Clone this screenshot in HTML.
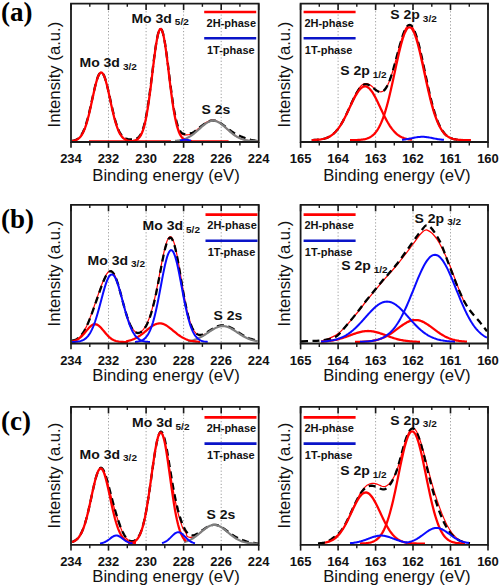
<!DOCTYPE html>
<html><head><meta charset="utf-8"><style>
html,body{margin:0;padding:0;width:501px;height:587px;overflow:hidden;background:#fff;}
</style></head><body>
<svg width="501" height="587" viewBox="0 0 501 587" style="position:absolute;left:0;top:0;font-family:'Liberation Sans', sans-serif">
<rect width="501" height="587" fill="#fff"/>
<line x1="108.5" y1="4.6" x2="108.5" y2="141.0" stroke="#9c9c9c" stroke-width="1" stroke-dasharray="1.2 2.1"/>
<line x1="146.1" y1="4.6" x2="146.1" y2="141.0" stroke="#9c9c9c" stroke-width="1" stroke-dasharray="1.2 2.1"/>
<line x1="183.6" y1="4.6" x2="183.6" y2="141.0" stroke="#9c9c9c" stroke-width="1" stroke-dasharray="1.2 2.1"/>
<line x1="221.2" y1="4.6" x2="221.2" y2="141.0" stroke="#9c9c9c" stroke-width="1" stroke-dasharray="1.2 2.1"/>
<line x1="338.1" y1="4.6" x2="338.1" y2="141.0" stroke="#9c9c9c" stroke-width="1" stroke-dasharray="1.2 2.1"/>
<line x1="375.6" y1="4.6" x2="375.6" y2="141.0" stroke="#9c9c9c" stroke-width="1" stroke-dasharray="1.2 2.1"/>
<line x1="413.0" y1="4.6" x2="413.0" y2="141.0" stroke="#9c9c9c" stroke-width="1" stroke-dasharray="1.2 2.1"/>
<line x1="450.5" y1="4.6" x2="450.5" y2="141.0" stroke="#9c9c9c" stroke-width="1" stroke-dasharray="1.2 2.1"/>
<line x1="108.5" y1="205.8" x2="108.5" y2="342.5" stroke="#9c9c9c" stroke-width="1" stroke-dasharray="1.2 2.1"/>
<line x1="146.1" y1="205.8" x2="146.1" y2="342.5" stroke="#9c9c9c" stroke-width="1" stroke-dasharray="1.2 2.1"/>
<line x1="183.6" y1="205.8" x2="183.6" y2="342.5" stroke="#9c9c9c" stroke-width="1" stroke-dasharray="1.2 2.1"/>
<line x1="221.2" y1="205.8" x2="221.2" y2="342.5" stroke="#9c9c9c" stroke-width="1" stroke-dasharray="1.2 2.1"/>
<line x1="338.1" y1="205.8" x2="338.1" y2="342.5" stroke="#9c9c9c" stroke-width="1" stroke-dasharray="1.2 2.1"/>
<line x1="375.6" y1="205.8" x2="375.6" y2="342.5" stroke="#9c9c9c" stroke-width="1" stroke-dasharray="1.2 2.1"/>
<line x1="413.0" y1="205.8" x2="413.0" y2="342.5" stroke="#9c9c9c" stroke-width="1" stroke-dasharray="1.2 2.1"/>
<line x1="450.5" y1="205.8" x2="450.5" y2="342.5" stroke="#9c9c9c" stroke-width="1" stroke-dasharray="1.2 2.1"/>
<line x1="108.5" y1="407.9" x2="108.5" y2="543.8" stroke="#9c9c9c" stroke-width="1" stroke-dasharray="1.2 2.1"/>
<line x1="146.1" y1="407.9" x2="146.1" y2="543.8" stroke="#9c9c9c" stroke-width="1" stroke-dasharray="1.2 2.1"/>
<line x1="183.6" y1="407.9" x2="183.6" y2="543.8" stroke="#9c9c9c" stroke-width="1" stroke-dasharray="1.2 2.1"/>
<line x1="221.2" y1="407.9" x2="221.2" y2="543.8" stroke="#9c9c9c" stroke-width="1" stroke-dasharray="1.2 2.1"/>
<line x1="338.1" y1="407.9" x2="338.1" y2="543.8" stroke="#9c9c9c" stroke-width="1" stroke-dasharray="1.2 2.1"/>
<line x1="375.6" y1="407.9" x2="375.6" y2="543.8" stroke="#9c9c9c" stroke-width="1" stroke-dasharray="1.2 2.1"/>
<line x1="413.0" y1="407.9" x2="413.0" y2="543.8" stroke="#9c9c9c" stroke-width="1" stroke-dasharray="1.2 2.1"/>
<line x1="450.5" y1="407.9" x2="450.5" y2="543.8" stroke="#9c9c9c" stroke-width="1" stroke-dasharray="1.2 2.1"/>
<path d="M72.0 140.98 L73.0 140.84 L74.0 140.64 L75.0 140.38 L76.0 140.03 L77.0 139.57 L78.0 138.96 L79.0 138.19 L80.0 137.22 L81.0 136.00 L82.0 134.51 L83.0 132.71 L84.0 130.57 L85.0 128.07 L86.0 125.18 L87.0 121.91 L88.0 118.26 L89.0 114.27 L90.0 109.99 L91.0 105.48 L92.0 100.83 L93.0 96.15 L94.0 91.56 L95.0 87.19 L96.0 83.17 L97.0 79.63 L98.0 76.70 L99.0 74.47 L100.0 73.02 L101.0 72.42 L102.0 72.68 L103.0 73.79 L104.0 75.71 L105.0 78.38 L106.0 81.69 L107.0 85.53 L108.0 89.78 L109.0 94.30 L110.0 98.96 L111.0 103.63 L112.0 108.21 L113.0 112.59 L114.0 116.70 L115.0 120.49 L116.0 123.92 L117.0 126.96 L118.0 129.62 L119.0 131.90 L120.0 133.83 L121.0 135.44 L122.0 136.76 L123.0 137.82 L124.0 138.67 L125.0 139.33 L126.0 139.84 L127.0 140.23 L128.0 140.51 L129.0 140.70 L130.0 140.82 L131.0 140.88 L132.0 140.87 L133.0 140.79 L134.0 140.64 L135.0 140.39 L136.0 140.02 L137.0 139.50 L138.0 138.77 L139.0 137.80 L140.0 136.52 L141.0 134.85 L142.0 132.73 L143.0 130.08 L144.0 126.83 L145.0 122.91 L146.0 118.28 L147.0 112.90 L148.0 106.79 L149.0 99.98 L150.0 92.55 L151.0 84.64 L152.0 76.42 L153.0 68.11 L154.0 59.95 L155.0 52.21 L156.0 45.18 L157.0 39.13 L158.0 34.30 L159.0 30.90 L160.0 29.07 L161.0 28.90 L162.0 30.39 L163.0 33.47 L164.0 38.01 L165.0 43.82 L166.0 50.66 L167.0 58.26 L168.0 66.33 L169.0 74.61 L170.0 82.84 L171.0 90.80 L172.0 98.30 L173.0 105.21 L174.0 111.43 L175.0 116.49 L176.0 121.13 L177.0 125.03 L178.0 128.23 L179.0 130.78 L180.0 132.20 L181.0 133.45 L182.0 134.26 L183.0 134.73 L184.0 134.94 L185.0 135.00 L186.0 134.97 L187.0 134.88 L188.0 134.75 L189.0 134.55 L190.0 134.28 L191.0 133.91 L192.0 133.82 L193.0 133.10 L194.0 132.34 L195.0 131.54 L196.0 130.71 L197.0 129.85 L198.0 128.98 L199.0 128.10 L200.0 127.22 L201.0 126.36 L202.0 125.51 L203.0 124.69 L204.0 123.91 L205.0 123.19 L206.0 122.52 L207.0 121.93 L208.0 121.42 L209.0 120.99 L210.0 120.65 L211.0 120.42 L212.0 120.29 L213.0 120.26 L214.0 120.34 L215.0 120.53 L216.0 120.82 L217.0 121.21 L218.0 121.69 L219.0 122.26 L220.0 122.91 L221.0 123.63 L222.0 124.40 L223.0 125.23 L224.0 126.10 L225.0 127.00 L226.0 127.91 L227.0 128.83 L228.0 129.75 L229.0 130.66 L230.0 131.54 L231.0 132.40 L232.0 133.23 L233.0 134.02 L234.0 134.76 L235.0 135.47 L236.0 136.12 L237.0 136.72 L238.0 137.28 L239.0 137.78 L240.0 138.24 L241.0 138.66 L242.0 139.03 L243.0 139.35 L244.0 139.64 L245.0 139.90 L246.0 140.12 L247.0 140.31 L248.0 140.48 L249.0 140.62 L250.0 140.74 L251.0 140.84 L252.0 140.92 L253.0 140.99 L254.0 141.05 L255.0 141.10 L256.0 141.14 L257.0 141.17 L257.7 141.19" fill="none" stroke="#ff0000" stroke-width="1.2"/>
<path d="M72.0 140.90 L73.0 140.74 L74.0 140.51 L75.0 140.21 L76.0 139.82 L77.0 139.30 L78.0 138.64 L79.0 137.79 L80.0 136.74 L81.0 135.45 L82.0 133.87 L83.0 131.99 L84.0 129.77 L85.0 127.19 L86.0 124.24 L87.0 120.93 L88.0 117.26 L89.0 113.27 L90.0 109.01 L91.0 104.56 L92.0 99.99 L93.0 95.41 L94.0 90.93 L95.0 86.68 L96.0 82.79 L97.0 79.37 L98.0 76.53 L99.0 74.39 L100.0 73.00 L101.0 72.42 L102.0 72.67 L103.0 73.74 L104.0 75.59 L105.0 78.16 L106.0 81.35 L107.0 85.07 L108.0 89.20 L109.0 93.60 L110.0 98.15 L111.0 102.73 L112.0 107.24 L113.0 111.58 L114.0 115.68 L115.0 119.47 L116.0 122.91 L117.0 125.98 L118.0 128.66 L119.0 130.97 L120.0 132.92 L121.0 134.54 L122.0 135.84 L123.0 136.87 L124.0 137.66 L125.0 138.26 L126.0 138.69 L127.0 138.99 L128.0 139.20 L129.0 139.34 L130.0 139.42 L131.0 139.46 L132.0 139.47 L133.0 139.44 L134.0 139.34 L135.0 139.16 L136.0 138.86 L137.0 138.40 L138.0 137.72 L139.0 136.77 L140.0 135.48 L141.0 133.78 L142.0 131.59 L143.0 128.86 L144.0 125.51 L145.0 121.49 L146.0 116.76 L147.0 111.31 L148.0 105.15 L149.0 98.33 L150.0 90.94 L151.0 83.11 L152.0 75.02 L153.0 66.88 L154.0 58.92 L155.0 51.40 L156.0 44.60 L157.0 38.75 L158.0 34.10 L159.0 30.82 L160.0 29.06 L161.0 28.89 L162.0 30.32 L163.0 33.28 L164.0 37.65 L165.0 43.26 L166.0 49.87 L167.0 57.23 L168.0 65.09 L169.0 73.18 L170.0 81.26 L171.0 89.11 L172.0 96.55 L173.0 103.44 L174.0 109.68 L175.0 114.73 L176.0 119.45 L177.0 123.44 L178.0 126.74 L179.0 129.40 L180.0 130.90 L181.0 132.24 L182.0 133.14 L183.0 133.68 L184.0 133.96 L185.0 134.08 L186.0 134.09 L187.0 134.04 L188.0 133.93 L189.0 133.77 L190.0 133.54 L191.0 133.21 L192.0 133.19 L193.0 132.53 L194.0 131.83 L195.0 131.09 L196.0 130.33 L197.0 129.55 L198.0 128.75 L199.0 127.94 L200.0 127.14 L201.0 126.34 L202.0 125.55 L203.0 124.80 L204.0 124.08 L205.0 123.40 L206.0 122.77 L207.0 122.21 L208.0 121.72 L209.0 121.30 L210.0 120.97 L211.0 120.73 L212.0 120.59 L213.0 120.55 L214.0 120.60 L215.0 120.75 L216.0 121.00 L217.0 121.34 L218.0 121.76 L219.0 122.27 L220.0 122.84 L221.0 123.48 L222.0 124.17 L223.0 124.90 L224.0 125.66 L225.0 126.44 L226.0 127.23 L227.0 128.01 L228.0 128.79 L229.0 129.55 L230.0 130.28 L231.0 130.99 L232.0 131.66 L233.0 132.31 L234.0 132.92 L235.0 133.50 L236.0 134.05 L237.0 134.57 L238.0 135.07 L239.0 135.55 L240.0 136.01 L241.0 136.45 L242.0 136.88 L243.0 137.29 L244.0 137.68 L245.0 138.06 L246.0 138.42 L247.0 138.76 L248.0 139.08 L249.0 139.38 L250.0 139.65 L251.0 139.90 L252.0 140.12 L253.0 140.32 L254.0 140.49 L255.0 140.64 L256.0 140.77 L257.0 140.88 L257.7 140.94" fill="none" stroke="#000" stroke-width="2.3" stroke-dasharray="7 4.5"/>
<path d="M175.0 140.87 L176.0 140.78 L177.0 140.67 L178.0 140.53 L179.0 140.38 L180.0 140.20 L181.0 139.99 L182.0 139.75 L183.0 139.48 L184.0 139.16 L185.0 138.81 L186.0 138.42 L187.0 137.98 L188.0 137.49 L189.0 136.96 L190.0 136.37 L191.0 135.74 L192.0 135.06 L193.0 134.33 L194.0 133.57 L195.0 132.76 L196.0 131.92 L197.0 131.04 L198.0 130.15 L199.0 129.25 L200.0 128.34 L201.0 127.43 L202.0 126.54 L203.0 125.68 L204.0 124.85 L205.0 124.07 L206.0 123.35 L207.0 122.70 L208.0 122.13 L209.0 121.64 L210.0 121.25 L211.0 120.96 L212.0 120.78 L213.0 120.70 L214.0 120.74 L215.0 120.88 L216.0 121.12 L217.0 121.48 L218.0 121.92 L219.0 122.46 L220.0 123.08 L221.0 123.78 L222.0 124.53 L223.0 125.34 L224.0 126.19 L225.0 127.07 L226.0 127.97 L227.0 128.88 L228.0 129.79 L229.0 130.69 L230.0 131.57 L231.0 132.42 L232.0 133.25 L233.0 134.03 L234.0 134.78 L235.0 135.47 L236.0 136.13 L237.0 136.73 L238.0 137.28 L239.0 137.79 L240.0 138.25 L241.0 138.66 L242.0 139.03 L243.0 139.35 L244.0 139.64 L245.0 139.90 L246.0 140.12 L247.0 140.31 L248.0 140.48 L249.0 140.62 L250.0 140.74 L251.0 140.84 L252.0 140.92 L253.0 140.99 L254.0 141.05 L255.0 141.10 L256.0 141.14 L257.0 141.17 L257.7 141.19" fill="none" stroke="#7f7f7f" stroke-width="2.2"/>
<path d="M72.0 140.98 L73.0 140.84 L74.0 140.64 L75.0 140.38 L76.0 140.03 L77.0 139.57 L78.0 138.96 L79.0 138.19 L80.0 137.22 L81.0 136.00 L82.0 134.51 L83.0 132.71 L84.0 130.57 L85.0 128.07 L86.0 125.18 L87.0 121.91 L88.0 118.26 L89.0 114.27 L90.0 109.99 L91.0 105.48 L92.0 100.83 L93.0 96.15 L94.0 91.56 L95.0 87.19 L96.0 83.17 L97.0 79.63 L98.0 76.70 L99.0 74.47 L100.0 73.02 L101.0 72.42 L102.0 72.68 L103.0 73.79 L104.0 75.71 L105.0 78.38 L106.0 81.69 L107.0 85.53 L108.0 89.78 L109.0 94.30 L110.0 98.96 L111.0 103.63 L112.0 108.21 L113.0 112.59 L114.0 116.70 L115.0 120.49 L116.0 123.92 L117.0 126.96 L118.0 129.62 L119.0 131.90 L120.0 133.83 L121.0 135.44 L122.0 136.76 L123.0 137.83 L124.0 138.68 L125.0 139.34 L126.0 139.86 L127.0 140.25 L128.0 140.55 L129.0 140.77 L130.0 140.93 L131.0 141.04 L132.0 141.12 L133.0 141.18 L134.0 141.22 L135.0 141.25 L136.0 141.27 L137.0 141.28 L138.0 141.29 L139.0 141.29 L140.0 141.29 L141.0 141.30 L142.0 141.30 L143.0 141.30 L144.0 141.30 L145.0 141.30 L146.0 141.30 L147.0 141.30 L148.0 141.30 L149.0 141.30 L150.0 141.30 L151.0 141.30 L152.0 141.30 L153.0 141.30 L154.0 141.30 L155.0 141.30 L156.0 141.30 L157.0 141.30 L158.0 141.30 L159.0 141.30 L160.0 141.30 L161.0 141.30 L162.0 141.30 L163.0 141.30 L164.0 141.30 L165.0 141.30 L166.0 141.30 L167.0 141.30 L168.0 141.30 L169.0 141.30 L170.0 141.30 L171.0 141.30" fill="none" stroke="#ff0000" stroke-width="2.25"/>
<path d="M89.0 141.30 L90.0 141.30 L91.0 141.30 L92.0 141.30 L93.0 141.30 L94.0 141.30 L95.0 141.30 L96.0 141.30 L97.0 141.30 L98.0 141.30 L99.0 141.30 L100.0 141.30 L101.0 141.30 L102.0 141.30 L103.0 141.30 L104.0 141.30 L105.0 141.30 L106.0 141.30 L107.0 141.30 L108.0 141.30 L109.0 141.30 L110.0 141.30 L111.0 141.30 L112.0 141.30 L113.0 141.30 L114.0 141.30 L115.0 141.30 L116.0 141.30 L117.0 141.30 L118.0 141.30 L119.0 141.30 L120.0 141.30 L121.0 141.30 L122.0 141.30 L123.0 141.30 L124.0 141.29 L125.0 141.29 L126.0 141.28 L127.0 141.27 L128.0 141.26 L129.0 141.23 L130.0 141.19 L131.0 141.13 L132.0 141.04 L133.0 140.91 L134.0 140.72 L135.0 140.44 L136.0 140.06 L137.0 139.52 L138.0 138.79 L139.0 137.81 L140.0 136.52 L141.0 134.85 L142.0 132.73 L143.0 130.08 L144.0 126.83 L145.0 122.92 L146.0 118.28 L147.0 112.90 L148.0 106.79 L149.0 99.98 L150.0 92.55 L151.0 84.65 L152.0 76.43 L153.0 68.11 L154.0 59.95 L155.0 52.22 L156.0 45.19 L157.0 39.15 L158.0 34.32 L159.0 30.92 L160.0 29.10 L161.0 28.93 L162.0 30.43 L163.0 33.52 L164.0 38.08 L165.0 43.90 L166.0 50.75 L167.0 58.36 L168.0 66.46 L169.0 74.76 L170.0 83.02 L171.0 91.01 L172.0 98.54 L173.0 105.48 L174.0 111.74 L175.0 117.27 L176.0 122.05 L177.0 126.10 L178.0 129.48 L179.0 132.25 L180.0 134.47 L181.0 136.22 L182.0 137.58 L183.0 138.61 L184.0 139.39 L185.0 139.96 L186.0 140.38 L187.0 140.67 L188.0 140.88 L189.0 141.02 L190.0 141.12 L191.0 141.18 L192.0 141.23 L193.0 141.25 L194.0 141.27 L195.0 141.28 L196.0 141.29 L197.0 141.29 L198.0 141.30 L199.0 141.30 L200.0 141.30 L201.0 141.30 L202.0 141.30 L203.0 141.30 L204.0 141.30 L205.0 141.30 L206.0 141.30 L207.0 141.30 L208.0 141.30 L209.0 141.30 L210.0 141.30 L211.0 141.30 L212.0 141.30 L213.0 141.30 L214.0 141.30 L215.0 141.30 L216.0 141.30 L217.0 141.30 L218.0 141.30 L219.0 141.30 L220.0 141.30 L221.0 141.30 L222.0 141.30 L223.0 141.30 L224.0 141.30 L225.0 141.30 L226.0 141.30 L227.0 141.30 L228.0 141.30 L228.6 141.30" fill="none" stroke="#ff0000" stroke-width="2.25"/>
<path d="M180.0 140.73 L181.0 140.50 L182.0 140.25 L183.0 140.01 L184.0 139.82 L185.0 139.71 L186.0 139.71 L187.0 139.82 L188.0 140.01 L189.0 140.25 L190.0 140.50 L191.0 140.73" fill="none" stroke="#0a0aff" stroke-width="2.0"/>
<path d="M311.8 140.07 L312.8 140.04 L313.8 140.00 L314.8 139.95 L315.8 139.90 L316.8 139.83 L317.8 139.74 L318.8 139.64 L319.8 139.52 L320.8 139.38 L321.8 139.21 L322.8 139.01 L323.8 138.78 L324.8 138.50 L325.8 138.19 L326.8 137.83 L327.8 137.41 L328.8 136.94 L329.8 136.40 L330.8 135.79 L331.8 135.10 L332.8 134.33 L333.8 133.48 L334.8 132.53 L335.8 131.48 L336.8 130.34 L337.8 129.09 L338.8 127.73 L339.8 126.26 L340.8 124.69 L341.8 123.02 L342.8 121.24 L343.8 119.36 L344.8 117.40 L345.8 115.35 L346.8 113.23 L347.8 111.06 L348.8 108.85 L349.8 106.61 L350.8 104.34 L351.8 102.10 L352.8 99.90 L353.8 97.76 L354.8 95.69 L355.8 93.73 L356.8 91.89 L357.8 90.20 L358.8 88.67 L359.8 87.31 L360.8 86.16 L361.8 85.20 L362.8 84.46 L363.8 83.93 L364.8 83.61 L365.8 83.49 L366.8 83.58 L367.8 83.84 L368.8 84.27 L369.8 84.84 L370.8 85.53 L371.8 86.31 L372.8 87.14 L373.8 88.00 L374.8 88.85 L375.8 89.66 L376.8 90.38 L377.8 91.00 L378.8 91.47 L379.8 91.76 L380.8 91.84 L381.8 91.68 L382.8 91.26 L383.8 90.56 L384.8 89.57 L385.8 88.27 L386.8 86.66 L387.8 84.74 L388.8 82.51 L389.8 79.99 L390.8 77.19 L391.8 74.15 L392.8 70.88 L393.8 67.43 L394.8 63.84 L395.8 60.15 L396.8 56.41 L397.8 52.67 L398.8 48.98 L399.8 45.41 L400.8 42.00 L401.8 38.81 L402.8 35.34 L403.8 32.63 L404.8 30.27 L405.8 28.30 L406.8 26.75 L407.8 25.65 L408.8 25.03 L409.8 24.89 L410.8 25.24 L411.8 26.09 L412.8 27.83 L413.8 29.56 L414.8 31.76 L415.8 34.40 L416.8 37.45 L417.8 40.87 L418.8 44.61 L419.8 48.64 L420.8 52.91 L421.8 57.37 L422.8 61.97 L423.8 66.66 L424.8 71.40 L425.8 76.14 L426.8 80.84 L427.8 85.47 L428.8 89.97 L429.8 94.34 L430.8 98.53 L431.8 102.52 L432.8 106.29 L433.8 109.84 L434.8 113.16 L435.8 116.23 L436.8 119.05 L437.8 121.64 L438.8 123.99 L439.8 126.11 L440.8 128.01 L441.8 129.71 L442.8 131.21 L443.8 132.54 L444.8 134.00 L445.8 134.95 L446.8 135.78 L447.8 136.49 L448.8 137.11 L449.8 137.63 L450.8 138.07 L451.8 138.45 L452.8 138.77 L453.8 139.03 L454.8 139.25 L455.8 139.43 L456.8 139.58 L457.8 139.71 L458.8 139.81 L459.8 139.89 L460.8 139.95 L461.8 140.01 L462.8 140.05 L463.8 140.08 L464.8 140.11 L465.8 140.13 L466.8 140.15 L467.8 140.16 L468.8 140.17 L469.8 140.18 L470.8 140.18 L470.9 140.18" fill="none" stroke="#ff0000" stroke-width="1.2"/>
<path d="M311.8 140.07 L312.8 140.04 L313.8 140.00 L314.8 139.95 L315.8 139.90 L316.8 139.83 L317.8 139.74 L318.8 139.64 L319.8 139.52 L320.8 139.38 L321.8 139.21 L322.8 139.01 L323.8 138.78 L324.8 138.50 L325.8 138.19 L326.8 137.83 L327.8 137.41 L328.8 136.94 L329.8 136.40 L330.8 135.79 L331.8 135.11 L332.8 134.34 L333.8 133.49 L334.8 132.54 L335.8 131.50 L336.8 130.36 L337.8 129.12 L338.8 127.77 L339.8 126.32 L340.8 124.76 L341.8 123.10 L342.8 121.35 L343.8 119.50 L344.8 117.56 L345.8 115.55 L346.8 113.47 L347.8 111.35 L348.8 109.18 L349.8 107.00 L350.8 104.77 L351.8 102.60 L352.8 100.45 L353.8 98.37 L354.8 96.36 L355.8 94.45 L356.8 92.66 L357.8 91.01 L358.8 89.51 L359.8 88.19 L360.8 87.05 L361.8 86.10 L362.8 85.35 L363.8 84.81 L364.8 84.47 L365.8 84.32 L366.8 84.37 L367.8 84.58 L368.8 84.96 L369.8 85.48 L370.8 86.11 L371.8 86.82 L372.8 87.60 L373.8 88.40 L374.8 89.20 L375.8 89.96 L376.8 90.64 L377.8 91.22 L378.8 91.65 L379.8 91.90 L380.8 91.95 L381.8 91.77 L382.8 91.34 L383.8 90.62 L384.8 89.62 L385.8 88.31 L386.8 86.69 L387.8 84.76 L388.8 82.52 L389.8 80.00 L390.8 77.20 L391.8 74.15 L392.8 70.89 L393.8 67.44 L394.8 63.84 L395.8 60.15 L396.8 56.41 L397.8 52.67 L398.8 48.98 L399.8 45.41 L400.8 42.00 L401.8 38.81 L402.8 35.34 L403.8 32.63 L404.8 30.27 L405.8 28.30 L406.8 26.75 L407.8 25.65 L408.8 25.03 L409.8 24.89 L410.8 25.24 L411.8 26.09 L412.8 27.83 L413.8 29.56 L414.8 31.76 L415.8 34.40 L416.8 37.45 L417.8 40.87 L418.8 44.61 L419.8 48.64 L420.8 52.91 L421.8 57.37 L422.8 61.97 L423.8 66.66 L424.8 71.40 L425.8 76.14 L426.8 80.84 L427.8 85.47 L428.8 89.97 L429.8 94.34 L430.8 98.53 L431.8 102.52 L432.8 106.29 L433.8 109.84 L434.8 113.16 L435.8 116.23 L436.8 119.05 L437.8 121.64 L438.8 123.99 L439.8 126.11 L440.8 128.01 L441.8 129.71 L442.8 131.21 L443.8 132.54 L444.8 134.00 L445.8 134.95 L446.8 135.78 L447.8 136.49 L448.8 137.11 L449.8 137.63 L450.8 138.07 L451.8 138.45 L452.8 138.77 L453.8 139.03 L454.8 139.25 L455.8 139.43 L456.8 139.58 L457.8 139.71 L458.8 139.81 L459.8 139.89 L460.8 139.95 L461.8 140.01 L462.8 140.05 L463.8 140.08 L464.8 140.11 L465.8 140.13 L466.8 140.15 L467.8 140.16 L468.8 140.17 L469.8 140.18 L470.8 140.18 L470.9 140.18" fill="none" stroke="#000" stroke-width="2.3" stroke-dasharray="7 4.5"/>
<path d="M311.8 140.07 L312.8 140.04 L313.8 140.00 L314.8 139.95 L315.8 139.90 L316.8 139.83 L317.8 139.74 L318.8 139.64 L319.8 139.52 L320.8 139.38 L321.8 139.21 L322.8 139.01 L323.8 138.78 L324.8 138.50 L325.8 138.19 L326.8 137.83 L327.8 137.41 L328.8 136.94 L329.8 136.40 L330.8 135.79 L331.8 135.11 L332.8 134.35 L333.8 133.50 L334.8 132.55 L335.8 131.52 L336.8 130.38 L337.8 129.15 L338.8 127.81 L339.8 126.37 L340.8 124.83 L341.8 123.19 L342.8 121.46 L343.8 119.63 L344.8 117.73 L345.8 115.75 L346.8 113.71 L347.8 111.63 L348.8 109.51 L349.8 107.38 L350.8 105.25 L351.8 103.14 L352.8 101.07 L353.8 99.06 L354.8 97.14 L355.8 95.31 L356.8 93.61 L357.8 92.05 L358.8 90.65 L359.8 89.42 L360.8 88.39 L361.8 87.57 L362.8 86.95 L363.8 86.57 L364.8 86.40 L365.8 86.47 L366.8 86.77 L367.8 87.29 L368.8 88.04 L369.8 88.99 L370.8 90.14 L371.8 91.47 L372.8 92.97 L373.8 94.61 L374.8 96.39 L375.8 98.28 L376.8 100.26 L377.8 102.31 L378.8 104.40 L379.8 106.53 L380.8 108.66 L381.8 110.79 L382.8 112.88 L383.8 114.94 L384.8 116.94 L385.8 118.88 L386.8 120.74 L387.8 122.51 L388.8 124.19 L389.8 125.77 L390.8 127.25 L391.8 128.63 L392.8 129.90 L393.8 131.08 L394.8 132.15 L395.8 133.13 L396.8 134.02 L397.8 134.81 L398.8 135.53 L399.8 136.17 L400.8 136.73 L401.8 137.23 L402.8 137.67 L403.8 138.05 L404.8 138.38 L405.8 138.67 L406.8 138.92 L407.8 139.13 L408.8 139.31 L409.8 139.47 L410.8 139.59 L411.8 139.70 L412.0 139.72" fill="none" stroke="#ff0000" stroke-width="2.25"/>
<path d="M350.0 140.17 L351.0 140.16 L352.0 140.15 L353.0 140.13 L354.0 140.11 L355.0 140.09 L356.0 140.06 L357.0 140.02 L358.0 139.97 L359.0 139.90 L360.0 139.82 L361.0 139.73 L362.0 139.61 L363.0 139.47 L364.0 139.29 L365.0 139.08 L366.0 138.82 L367.0 138.52 L368.0 138.15 L369.0 137.72 L370.0 137.22 L371.0 136.62 L372.0 135.93 L373.0 135.13 L374.0 134.20 L375.0 133.14 L376.0 131.93 L377.0 130.55 L378.0 129.00 L379.0 127.26 L380.0 125.32 L381.0 123.16 L382.0 120.79 L383.0 118.19 L384.0 115.35 L385.0 112.29 L386.0 108.98 L387.0 105.45 L388.0 101.70 L389.0 97.74 L390.0 93.60 L391.0 89.29 L392.0 84.83 L393.0 80.27 L394.0 75.63 L395.0 70.96 L396.0 66.29 L397.0 61.68 L398.0 57.16 L399.0 52.79 L400.0 48.63 L401.0 44.70 L402.0 41.08 L403.0 37.79 L404.0 34.89 L405.0 32.41 L406.0 30.38 L407.0 28.83 L408.0 27.79 L409.0 27.27 L410.0 27.27 L411.0 27.79 L412.0 28.83 L413.0 30.38 L414.0 32.41 L415.0 34.89 L416.0 37.79 L417.0 41.08 L418.0 44.70 L419.0 48.63 L420.0 52.79 L421.0 57.16 L422.0 61.68 L423.0 66.29 L424.0 70.96 L425.0 75.63 L426.0 80.27 L427.0 84.83 L428.0 89.29 L429.0 93.60 L430.0 97.74 L431.0 101.70 L432.0 105.45 L433.0 108.98 L434.0 112.29 L435.0 115.35 L436.0 118.19 L437.0 120.79 L438.0 123.16 L439.0 125.32 L440.0 127.26 L441.0 129.00 L442.0 130.55 L443.0 131.93 L444.0 133.14 L445.0 134.20 L446.0 135.13 L447.0 135.93 L448.0 136.62 L449.0 137.22 L450.0 137.72 L451.0 138.15 L452.0 138.52 L453.0 138.82 L454.0 139.08 L455.0 139.29 L456.0 139.47 L457.0 139.61 L458.0 139.73 L459.0 139.82 L460.0 139.90 L461.0 139.97 L462.0 140.02 L463.0 140.06 L464.0 140.09 L465.0 140.11 L466.0 140.13 L467.0 140.15 L468.0 140.16 L469.0 140.17 L470.0 140.18 L470.9 140.18" fill="none" stroke="#ff0000" stroke-width="2.25"/>
<path d="M402.0 139.73 L403.0 139.63 L404.0 139.52 L405.0 139.39 L406.0 139.25 L407.0 139.10 L408.0 138.93 L409.0 138.75 L410.0 138.56 L411.0 138.36 L412.0 138.16 L413.0 137.96 L414.0 137.76 L415.0 137.57 L416.0 137.39 L417.0 137.23 L418.0 137.09 L419.0 136.97 L420.0 136.89 L421.0 136.83 L422.0 136.80 L423.0 136.81 L424.0 136.85 L425.0 136.92 L426.0 137.02 L427.0 137.14 L428.0 137.29 L429.0 137.46 L430.0 137.64 L431.0 137.84 L432.0 138.04 L433.0 138.24 L434.0 138.44 L435.0 138.64 L436.0 138.82 L437.0 139.00 L438.0 139.16 L439.0 139.31 L440.0 139.45 L441.0 139.57 L442.0 139.67 L443.0 139.77 L444.0 139.85" fill="none" stroke="#0a0aff" stroke-width="2.0"/>
<path d="M72.0 341.38 L73.0 341.14 L74.0 340.83 L75.0 340.44 L76.0 339.96 L77.0 339.38 L78.0 338.67 L79.0 337.83 L80.0 336.84 L81.0 335.69 L82.0 334.38 L83.0 332.89 L84.0 331.23 L85.0 329.39 L86.0 327.38 L87.0 325.21 L88.0 322.90 L89.0 320.45 L90.0 317.88 L91.0 315.21 L92.0 312.46 L93.0 309.64 L94.0 306.78 L95.0 303.88 L96.0 300.96 L97.0 298.04 L98.0 295.13 L99.0 292.25 L100.0 289.41 L101.0 286.65 L102.0 283.99 L103.0 281.47 L104.0 279.11 L105.0 276.97 L106.0 275.08 L107.0 273.50 L108.0 272.26 L109.0 271.41 L110.0 270.98 L111.0 271.00 L112.0 271.50 L113.0 272.48 L114.0 273.93 L115.0 275.84 L116.0 278.19 L117.0 280.92 L118.0 283.99 L119.0 287.35 L120.0 290.92 L121.0 294.65 L122.0 298.47 L123.0 302.32 L124.0 306.12 L125.0 309.83 L126.0 312.54 L127.0 315.76 L128.0 318.74 L129.0 321.47 L130.0 323.89 L131.0 326.03 L132.0 327.87 L133.0 329.42 L134.0 330.69 L135.0 331.48 L136.0 332.14 L137.0 332.54 L138.0 332.68 L139.0 332.59 L140.0 332.26 L141.0 331.70 L142.0 330.92 L143.0 329.91 L144.0 328.67 L145.0 327.21 L146.0 325.49 L147.0 323.52 L148.0 321.28 L149.0 318.76 L150.0 315.93 L151.0 312.89 L152.0 309.41 L153.0 305.62 L154.0 301.51 L155.0 297.11 L156.0 292.43 L157.0 287.52 L158.0 282.41 L159.0 277.16 L160.0 271.86 L161.0 266.59 L162.0 261.44 L163.0 256.51 L164.0 251.90 L165.0 247.74 L166.0 244.11 L167.0 241.11 L168.0 238.83 L169.0 237.34 L170.0 236.68 L171.0 236.88 L172.0 237.96 L173.0 239.88 L174.0 242.62 L175.0 246.11 L176.0 250.28 L177.0 255.02 L178.0 260.24 L179.0 265.82 L180.0 271.64 L181.0 277.59 L182.0 283.56 L183.0 289.44 L184.0 295.16 L185.0 300.62 L186.0 305.78 L187.0 310.57 L188.0 314.10 L189.0 317.95 L190.0 321.35 L191.0 324.32 L192.0 326.88 L193.0 329.03 L194.0 330.80 L195.0 332.23 L196.0 333.34 L197.0 334.17 L198.0 334.75 L199.0 335.11 L200.0 335.28 L201.0 335.46 L202.0 335.28 L203.0 334.99 L204.0 334.61 L205.0 334.15" fill="none" stroke="#ff0000" stroke-width="1.2"/>
<path d="M72.0 340.71 L73.0 340.50 L74.0 340.23 L75.0 339.89 L76.0 339.46 L77.0 338.94 L78.0 338.29 L79.0 337.52 L80.0 336.60 L81.0 335.53 L82.0 334.29 L83.0 332.88 L84.0 331.29 L85.0 329.54 L86.0 327.61 L87.0 325.52 L88.0 323.28 L89.0 320.90 L90.0 318.41 L91.0 315.81 L92.0 313.13 L93.0 310.38 L94.0 307.58 L95.0 304.74 L96.0 301.88 L97.0 299.00 L98.0 296.12 L99.0 293.25 L100.0 290.42 L101.0 287.64 L102.0 284.95 L103.0 282.37 L104.0 279.95 L105.0 277.73 L106.0 275.75 L107.0 274.07 L108.0 272.74 L109.0 271.80 L110.0 271.30 L111.0 271.26 L112.0 271.70 L113.0 272.64 L114.0 274.07 L115.0 275.98 L116.0 278.32 L117.0 281.06 L118.0 284.15 L119.0 287.52 L120.0 291.11 L121.0 294.83 L122.0 298.62 L123.0 302.42 L124.0 306.15 L125.0 309.76 L126.0 313.19 L127.0 316.40 L128.0 319.36 L129.0 322.04 L130.0 324.43 L131.0 326.51 L132.0 328.29 L133.0 329.77 L134.0 330.95 L135.0 331.85 L136.0 332.48 L137.0 332.85 L138.0 332.98 L139.0 332.88 L140.0 332.55 L141.0 332.01 L142.0 331.26 L143.0 330.29 L144.0 329.11 L145.0 327.70 L146.0 326.06 L147.0 324.18 L148.0 322.03 L149.0 319.61 L150.0 316.89 L151.0 313.86 L152.0 310.51 L153.0 306.84 L154.0 302.84 L155.0 298.53 L156.0 293.93 L157.0 289.07 L158.0 284.00 L159.0 278.77 L160.0 273.46 L161.0 268.16 L162.0 262.96 L163.0 257.97 L164.0 253.29 L165.0 249.05 L166.0 245.34 L167.0 242.28 L168.0 239.94 L169.0 238.39 L170.0 237.71 L171.0 237.90 L172.0 238.98 L173.0 240.94 L174.0 243.72 L175.0 247.27 L176.0 251.49 L177.0 256.30 L178.0 261.56 L179.0 267.18 L180.0 273.01 L181.0 278.95 L182.0 284.88 L183.0 290.69 L184.0 296.29 L185.0 301.60 L186.0 306.57 L187.0 311.14 L188.0 315.28 L189.0 318.98 L190.0 322.23 L191.0 325.05 L192.0 327.44 L193.0 329.44 L194.0 331.06 L195.0 332.35 L196.0 333.33 L197.0 334.04 L198.0 334.51 L199.0 334.78 L200.0 334.86 L201.0 334.79 L202.0 334.58 L203.0 334.27 L204.0 333.87 L205.0 333.40 L206.0 332.86 L207.0 332.29 L208.0 331.68 L209.0 331.06 L210.0 330.42 L211.0 329.79 L212.0 329.17 L213.0 328.57 L214.0 327.99 L215.0 327.46 L216.0 326.97 L217.0 326.54 L218.0 326.16 L219.0 325.84 L220.0 325.60 L221.0 325.42 L222.0 325.32 L223.0 325.30 L224.0 325.35 L225.0 325.48 L226.0 325.69 L227.0 325.96 L228.0 326.30 L229.0 326.71 L230.0 327.17 L231.0 327.68 L232.0 328.24 L233.0 328.83 L234.0 329.46 L235.0 330.10 L236.0 330.77 L237.0 331.44 L238.0 332.11 L239.0 332.77 L240.0 333.43 L241.0 334.07 L242.0 334.69 L243.0 335.29 L244.0 335.86 L245.0 336.39 L246.0 336.90 L247.0 337.37 L248.0 337.81 L249.0 338.22 L250.0 338.59 L251.0 338.92 L252.0 339.23 L253.0 339.50 L254.0 339.75 L255.0 339.97 L256.0 340.16 L257.0 340.33 L257.7 340.44" fill="none" stroke="#000" stroke-width="2.3" stroke-dasharray="7 4.5"/>
<path d="M187.8 341.25 L188.8 341.10 L189.8 340.93 L190.8 340.73 L191.8 340.50 L192.8 340.25 L193.8 339.97 L194.8 339.66 L195.8 339.32 L196.8 338.94 L197.8 338.53 L198.8 338.08 L199.8 337.60 L200.8 337.09 L201.8 336.54 L202.8 335.97 L203.8 335.37 L204.8 334.74 L205.8 334.10 L206.8 333.44 L207.8 332.77 L208.8 332.10 L209.8 331.43 L210.8 330.77 L211.8 330.13 L212.8 329.51 L213.8 328.93 L214.8 328.38 L215.8 327.87 L216.8 327.42 L217.8 327.03 L218.8 326.70 L219.8 326.44 L220.8 326.25 L221.8 326.14 L222.8 326.10 L223.8 326.14 L224.8 326.25 L225.8 326.44 L226.8 326.70 L227.8 327.03 L228.8 327.42 L229.8 327.87 L230.8 328.38 L231.8 328.93 L232.8 329.51 L233.8 330.13 L234.8 330.77 L235.8 331.43 L236.8 332.10 L237.8 332.77 L238.8 333.44 L239.8 334.10 L240.8 334.74 L241.8 335.37 L242.8 335.97 L243.8 336.54 L244.8 337.09 L245.8 337.60 L246.8 338.08 L247.8 338.53 L248.8 338.94 L249.8 339.32 L250.8 339.66 L251.8 339.97 L252.8 340.25 L253.8 340.50 L254.8 340.73 L255.8 340.93 L256.8 341.10 L257.7 341.24" fill="none" stroke="#7f7f7f" stroke-width="2.2"/>
<path d="M72.0 341.46 L73.0 341.25 L74.0 340.98 L75.0 340.65 L76.0 340.25 L77.0 339.77 L78.0 339.19 L79.0 338.52 L80.0 337.75 L81.0 336.88 L82.0 335.91 L83.0 334.86 L84.0 333.73 L85.0 332.55 L86.0 331.34 L87.0 330.13 L88.0 328.95 L89.0 327.83 L90.0 326.80 L91.0 325.91 L92.0 325.18 L93.0 324.64 L94.0 324.31 L95.0 324.20 L96.0 324.31 L97.0 324.64 L98.0 325.18 L99.0 325.91 L100.0 326.80 L101.0 327.83 L102.0 328.95 L103.0 330.13 L104.0 331.34 L105.0 332.55 L106.0 333.73 L107.0 334.86 L108.0 335.91 L109.0 336.88 L110.0 337.75 L111.0 338.52 L112.0 339.19 L113.0 339.77 L114.0 340.25 L115.0 340.65 L116.0 340.98 L117.0 341.25 L118.0 341.46 L119.0 341.62 L120.0 341.75 L121.0 341.84 L122.0 341.92 L123.0 341.97 L124.0 342.01 L125.0 342.04 L126.0 342.06 L127.0 342.07 L128.0 342.08" fill="none" stroke="#ff0000" stroke-width="2.25"/>
<path d="M126.0 341.24 L127.0 341.07 L128.0 340.87 L129.0 340.64 L130.0 340.38 L131.0 340.09 L132.0 339.76 L133.0 339.39 L134.0 338.97 L135.0 338.52 L136.0 338.01 L137.0 337.47 L138.0 336.87 L139.0 336.24 L140.0 335.56 L141.0 334.84 L142.0 334.09 L143.0 333.31 L144.0 332.51 L145.0 331.68 L146.0 330.85 L147.0 330.02 L148.0 329.19 L149.0 328.38 L150.0 327.61 L151.0 326.87 L152.0 326.17 L153.0 325.54 L154.0 324.97 L155.0 324.49 L156.0 324.08 L157.0 323.77 L158.0 323.55 L159.0 323.42 L160.0 323.40 L161.0 323.49 L162.0 323.67 L163.0 323.94 L164.0 324.31 L165.0 324.77 L166.0 325.31 L167.0 325.91 L168.0 326.58 L169.0 327.30 L170.0 328.07 L171.0 328.87 L172.0 329.69 L173.0 330.52 L174.0 331.35 L175.0 332.18 L176.0 332.99 L177.0 333.78 L178.0 334.55 L179.0 335.28 L180.0 335.97 L181.0 336.63 L182.0 337.24 L183.0 337.80 L184.0 338.32 L185.0 338.80 L186.0 339.23 L187.0 339.61 L188.0 339.96 L189.0 340.27 L190.0 340.54 L191.0 340.78 L192.0 340.99 L193.0 341.17 L194.0 341.33 L195.0 341.46 L196.0 341.57 L197.0 341.67 L198.0 341.75 L199.0 341.81 L200.0 341.87" fill="none" stroke="#ff0000" stroke-width="2.25"/>
<path d="M72.0 342.02 L73.0 341.99 L74.0 341.95 L75.0 341.89 L76.0 341.81 L77.0 341.71 L78.0 341.58 L79.0 341.41 L80.0 341.19 L81.0 340.91 L82.0 340.56 L83.0 340.13 L84.0 339.59 L85.0 338.93 L86.0 338.14 L87.0 337.18 L88.0 336.05 L89.0 334.72 L90.0 333.18 L91.0 331.40 L92.0 329.38 L93.0 327.10 L94.0 324.57 L95.0 321.78 L96.0 318.75 L97.0 315.49 L98.0 312.04 L99.0 308.43 L100.0 304.71 L101.0 300.93 L102.0 297.15 L103.0 293.44 L104.0 289.87 L105.0 286.51 L106.0 283.45 L107.0 280.73 L108.0 278.44 L109.0 276.63 L110.0 275.33 L111.0 274.58 L112.0 274.41 L113.0 274.81 L114.0 275.78 L115.0 277.29 L116.0 279.31 L117.0 281.77 L118.0 284.63 L119.0 287.83 L120.0 291.28 L121.0 294.91 L122.0 298.66 L123.0 302.44 L124.0 306.21 L125.0 309.89 L126.0 313.45 L127.0 316.82 L128.0 319.99 L129.0 322.92 L130.0 325.61 L131.0 328.04 L132.0 330.22 L133.0 332.14 L134.0 333.82 L135.0 335.28 L136.0 336.53 L137.0 337.59 L138.0 338.47 L139.0 339.21 L140.0 339.82 L141.0 340.31 L142.0 340.71 L143.0 341.03 L144.0 341.29 L145.0 341.48 L146.0 341.64 L147.0 341.76 L148.0 341.85 L149.0 341.91 L150.0 341.97" fill="none" stroke="#0a0aff" stroke-width="2.0"/>
<path d="M135.0 341.88 L136.0 341.80 L137.0 341.69 L138.0 341.53 L139.0 341.33 L140.0 341.07 L141.0 340.74 L142.0 340.31 L143.0 339.76 L144.0 339.08 L145.0 338.24 L146.0 337.20 L147.0 335.95 L148.0 334.44 L149.0 332.66 L150.0 330.56 L151.0 328.13 L152.0 325.34 L153.0 322.18 L154.0 318.64 L155.0 314.73 L156.0 310.45 L157.0 305.85 L158.0 300.96 L159.0 295.84 L160.0 290.56 L161.0 285.20 L162.0 279.87 L163.0 274.66 L164.0 269.69 L165.0 265.07 L166.0 260.90 L167.0 257.30 L168.0 254.35 L169.0 252.13 L170.0 250.71 L171.0 250.12 L172.0 250.37 L173.0 251.47 L174.0 253.37 L175.0 256.04 L176.0 259.39 L177.0 263.34 L178.0 267.79 L179.0 272.64 L180.0 277.77 L181.0 283.06 L182.0 288.42 L183.0 293.74 L184.0 298.94 L185.0 303.93 L186.0 308.65 L187.0 313.06 L188.0 317.12 L189.0 320.81 L190.0 324.12 L191.0 327.06 L192.0 329.63 L193.0 331.86 L194.0 333.76 L195.0 335.38 L196.0 336.73 L197.0 337.85 L198.0 338.77 L199.0 339.51 L200.0 340.11 L201.0 340.58 L202.0 340.95 L203.0 341.24 L204.0 341.46 L205.0 341.63 L206.0 341.76 L207.0 341.85 L207.7 341.90" fill="none" stroke="#0a0aff" stroke-width="2.0"/>
<path d="M321.0 341.30 C323.9 340.00 332.2 338.30 338.3 333.50 C344.4 328.70 352.9 317.83 357.5 312.50 C362.1 307.17 361.9 306.45 365.9 301.50 C369.9 296.55 376.2 288.88 381.4 282.80 C386.6 276.72 391.7 271.30 396.9 265.00 C402.1 258.70 408.4 250.25 412.4 245.00 C416.4 239.75 418.5 235.98 421.0 233.50 C423.5 231.02 424.5 229.12 427.2 230.10 C429.9 231.08 433.6 234.17 437.1 239.40 C440.6 244.63 444.5 253.02 448.2 261.50 C451.9 269.98 456.5 283.28 459.3 290.30 C462.1 297.32 463.9 301.38 464.8 303.60" fill="none" stroke="#ff0000" stroke-width="1.2"/>
<path d="M301.0 341.50 C302.5 341.42 306.8 341.17 310.0 341.00 C313.2 340.83 315.8 341.12 320.0 340.50 C324.2 339.88 330.7 339.72 335.0 337.30 C339.3 334.88 342.2 330.22 346.0 326.00 C349.8 321.78 354.2 316.17 357.5 312.00 C360.8 307.83 361.9 306.00 365.9 301.00 C369.9 296.00 376.2 288.17 381.4 282.00 C386.6 275.83 391.7 270.58 396.9 264.00 C402.1 257.42 408.4 248.00 412.4 242.50 C416.4 237.00 418.4 233.83 421.0 231.00 C423.6 228.17 425.2 223.92 428.3 225.50 C431.4 227.08 436.1 234.32 439.4 240.50 C442.7 246.68 444.9 254.18 448.2 262.60 C451.5 271.02 456.0 283.43 459.3 291.00 C462.6 298.57 464.9 302.95 468.2 308.00 C471.5 313.05 476.1 317.42 479.2 321.30 C482.3 325.18 485.7 329.63 487.0 331.30" fill="none" stroke="#000" stroke-width="2.3" stroke-dasharray="7 4.5"/>
<path d="M321.0 341.66 L322.0 341.60 L323.0 341.54 L324.0 341.48 L325.0 341.40 L326.0 341.31 L327.0 341.22 L328.0 341.11 L329.0 340.99 L330.0 340.86 L331.0 340.72 L332.0 340.57 L333.0 340.40 L334.0 340.21 L335.0 340.01 L336.0 339.80 L337.0 339.57 L338.0 339.33 L339.0 339.07 L340.0 338.79 L341.0 338.50 L342.0 338.20 L343.0 337.88 L344.0 337.55 L345.0 337.21 L346.0 336.86 L347.0 336.50 L348.0 336.13 L349.0 335.76 L350.0 335.39 L351.0 335.02 L352.0 334.64 L353.0 334.28 L354.0 333.92 L355.0 333.57 L356.0 333.23 L357.0 332.91 L358.0 332.60 L359.0 332.31 L360.0 332.05 L361.0 331.82 L362.0 331.61 L363.0 331.42 L364.0 331.27 L365.0 331.15 L366.0 331.07 L367.0 331.02 L368.0 331.00 L369.0 331.02 L370.0 331.07 L371.0 331.15 L372.0 331.27 L373.0 331.42 L374.0 331.61 L375.0 331.82 L376.0 332.05 L377.0 332.31 L378.0 332.60 L379.0 332.91 L380.0 333.23 L381.0 333.57 L382.0 333.92 L383.0 334.28 L384.0 334.64 L385.0 335.02 L386.0 335.39 L387.0 335.76 L388.0 336.13 L389.0 336.50 L390.0 336.86 L391.0 337.21 L392.0 337.55 L393.0 337.88 L394.0 338.20 L395.0 338.50 L396.0 338.79 L397.0 339.07 L398.0 339.33 L399.0 339.57 L400.0 339.80 L401.0 340.01 L402.0 340.21 L403.0 340.40 L404.0 340.57 L405.0 340.72 L406.0 340.86 L407.0 340.99 L408.0 341.11 L409.0 341.22 L410.0 341.31 L411.0 341.40 L412.0 341.48 L413.0 341.54 L414.0 341.60 L415.0 341.66 L416.0 341.71 L417.0 341.75 L418.0 341.78 L419.0 341.82 L420.0 341.84" fill="none" stroke="#ff0000" stroke-width="2.25"/>
<path d="M355.0 341.93 L356.0 341.92 L357.0 341.90 L358.0 341.88 L359.0 341.85 L360.0 341.83 L361.0 341.79 L362.0 341.76 L363.0 341.71 L364.0 341.66 L365.0 341.60 L366.0 341.53 L367.0 341.45 L368.0 341.37 L369.0 341.26 L370.0 341.15 L371.0 341.02 L372.0 340.88 L373.0 340.71 L374.0 340.53 L375.0 340.33 L376.0 340.11 L377.0 339.86 L378.0 339.59 L379.0 339.29 L380.0 338.96 L381.0 338.61 L382.0 338.23 L383.0 337.82 L384.0 337.38 L385.0 336.90 L386.0 336.40 L387.0 335.86 L388.0 335.30 L389.0 334.70 L390.0 334.08 L391.0 333.44 L392.0 332.76 L393.0 332.07 L394.0 331.36 L395.0 330.64 L396.0 329.90 L397.0 329.15 L398.0 328.41 L399.0 327.66 L400.0 326.92 L401.0 326.19 L402.0 325.48 L403.0 324.79 L404.0 324.13 L405.0 323.50 L406.0 322.91 L407.0 322.36 L408.0 321.86 L409.0 321.41 L410.0 321.02 L411.0 320.69 L412.0 320.42 L413.0 320.22 L414.0 320.08 L415.0 320.01 L416.0 320.01 L417.0 320.08 L418.0 320.22 L419.0 320.42 L420.0 320.69 L421.0 321.02 L422.0 321.41 L423.0 321.86 L424.0 322.36 L425.0 322.91 L426.0 323.50 L427.0 324.13 L428.0 324.79 L429.0 325.48 L430.0 326.19 L431.0 326.92 L432.0 327.66 L433.0 328.41 L434.0 329.15 L435.0 329.90 L436.0 330.64 L437.0 331.36 L438.0 332.07 L439.0 332.76 L440.0 333.44 L441.0 334.08 L442.0 334.70 L443.0 335.30 L444.0 335.86 L445.0 336.40 L446.0 336.90 L447.0 337.38 L448.0 337.82 L449.0 338.23 L450.0 338.61 L451.0 338.96 L452.0 339.29 L453.0 339.59 L454.0 339.86 L455.0 340.11 L456.0 340.33 L457.0 340.53 L458.0 340.71 L459.0 340.88 L460.0 341.02 L461.0 341.15 L462.0 341.26 L463.0 341.37 L464.0 341.45 L465.0 341.53 L466.0 341.60 L467.0 341.66" fill="none" stroke="#ff0000" stroke-width="2.25"/>
<path d="M321.0 341.61 L322.0 341.55 L323.0 341.49 L324.0 341.41 L325.0 341.33 L326.0 341.23 L327.0 341.13 L328.0 341.01 L329.0 340.88 L330.0 340.73 L331.0 340.57 L332.0 340.39 L333.0 340.20 L334.0 339.98 L335.0 339.74 L336.0 339.48 L337.0 339.19 L338.0 338.87 L339.0 338.53 L340.0 338.17 L341.0 337.77 L342.0 337.33 L343.0 336.87 L344.0 336.37 L345.0 335.84 L346.0 335.27 L347.0 334.66 L348.0 334.02 L349.0 333.33 L350.0 332.61 L351.0 331.85 L352.0 331.05 L353.0 330.22 L354.0 329.35 L355.0 328.44 L356.0 327.50 L357.0 326.52 L358.0 325.52 L359.0 324.48 L360.0 323.43 L361.0 322.35 L362.0 321.25 L363.0 320.14 L364.0 319.01 L365.0 317.88 L366.0 316.75 L367.0 315.62 L368.0 314.50 L369.0 313.40 L370.0 312.31 L371.0 311.25 L372.0 310.22 L373.0 309.22 L374.0 308.26 L375.0 307.35 L376.0 306.49 L377.0 305.68 L378.0 304.94 L379.0 304.26 L380.0 303.66 L381.0 303.12 L382.0 302.66 L383.0 302.28 L384.0 301.99 L385.0 301.77 L386.0 301.64 L387.0 301.60 L388.0 301.64 L389.0 301.77 L390.0 301.99 L391.0 302.28 L392.0 302.66 L393.0 303.12 L394.0 303.66 L395.0 304.26 L396.0 304.94 L397.0 305.68 L398.0 306.49 L399.0 307.35 L400.0 308.26 L401.0 309.22 L402.0 310.22 L403.0 311.25 L404.0 312.31 L405.0 313.40 L406.0 314.50 L407.0 315.62 L408.0 316.75 L409.0 317.88 L410.0 319.01 L411.0 320.14 L412.0 321.25 L413.0 322.35 L414.0 323.43 L415.0 324.48 L416.0 325.52 L417.0 326.52 L418.0 327.50 L419.0 328.44 L420.0 329.35 L421.0 330.22 L422.0 331.05 L423.0 331.85 L424.0 332.61 L425.0 333.33 L426.0 334.02 L427.0 334.66 L428.0 335.27 L429.0 335.84 L430.0 336.37 L431.0 336.87 L432.0 337.33 L433.0 337.77 L434.0 338.17 L435.0 338.53 L436.0 338.87 L437.0 339.19 L438.0 339.48 L439.0 339.74 L440.0 339.98 L441.0 340.20 L442.0 340.39 L443.0 340.57 L444.0 340.73 L445.0 340.88 L446.0 341.01 L447.0 341.13 L448.0 341.23 L449.0 341.33 L450.0 341.41 L451.0 341.49 L452.0 341.55 L453.0 341.61 L454.0 341.66 L455.0 341.71" fill="none" stroke="#0a0aff" stroke-width="2.0"/>
<path d="M360.0 341.83 L361.0 341.80 L362.0 341.76 L363.0 341.72 L364.0 341.67 L365.0 341.61 L366.0 341.55 L367.0 341.48 L368.0 341.39 L369.0 341.29 L370.0 341.18 L371.0 341.06 L372.0 340.92 L373.0 340.76 L374.0 340.57 L375.0 340.37 L376.0 340.14 L377.0 339.88 L378.0 339.59 L379.0 339.27 L380.0 338.92 L381.0 338.52 L382.0 338.09 L383.0 337.60 L384.0 337.07 L385.0 336.49 L386.0 335.85 L387.0 335.15 L388.0 334.40 L389.0 333.57 L390.0 332.68 L391.0 331.71 L392.0 330.67 L393.0 329.56 L394.0 328.36 L395.0 327.08 L396.0 325.72 L397.0 324.27 L398.0 322.74 L399.0 321.12 L400.0 319.41 L401.0 317.62 L402.0 315.75 L403.0 313.79 L404.0 311.76 L405.0 309.65 L406.0 307.47 L407.0 305.22 L408.0 302.92 L409.0 300.56 L410.0 298.16 L411.0 295.72 L412.0 293.25 L413.0 290.77 L414.0 288.28 L415.0 285.79 L416.0 283.32 L417.0 280.88 L418.0 278.47 L419.0 276.12 L420.0 273.83 L421.0 271.62 L422.0 269.50 L423.0 267.47 L424.0 265.57 L425.0 263.78 L426.0 262.13 L427.0 260.63 L428.0 259.28 L429.0 258.10 L430.0 257.09 L431.0 256.26 L432.0 255.61 L433.0 255.15 L434.0 254.88 L435.0 254.80 L436.0 254.92 L437.0 255.23 L438.0 255.72 L439.0 256.41 L440.0 257.28 L441.0 258.33 L442.0 259.54 L443.0 260.92 L444.0 262.45 L445.0 264.13 L446.0 265.94 L447.0 267.87 L448.0 269.91 L449.0 272.05 L450.0 274.28 L451.0 276.59 L452.0 278.95 L453.0 281.36 L454.0 283.82 L455.0 286.29 L456.0 288.78 L457.0 291.27 L458.0 293.75 L459.0 296.21 L460.0 298.64 L461.0 301.03 L462.0 303.38 L463.0 305.68 L464.0 307.91 L465.0 310.07 L466.0 312.17 L467.0 314.19 L468.0 316.13 L469.0 317.99 L470.0 319.76 L471.0 321.45 L472.0 323.05 L473.0 324.57 L474.0 326.00 L475.0 327.34 L476.0 328.61 L477.0 329.79 L478.0 330.89 L479.0 331.91 L480.0 332.86 L481.0 333.74 L482.0 334.55 L483.0 335.30 L484.0 335.98 L485.0 336.61 L486.0 337.18 L487.0 337.70" fill="none" stroke="#0a0aff" stroke-width="2.0"/>
<path d="M72.0 541.95 L73.0 541.62 L74.0 541.20 L75.0 540.67 L76.0 540.01 L77.0 539.19 L78.0 538.18 L79.0 536.96 L80.0 535.50 L81.0 533.76 L82.0 531.72 L83.0 529.35 L84.0 526.64 L85.0 523.58 L86.0 520.17 L87.0 516.42 L88.0 512.37 L89.0 508.06 L90.0 503.55 L91.0 498.90 L92.0 494.22 L93.0 489.59 L94.0 485.14 L95.0 480.99 L96.0 477.24 L97.0 474.03 L98.0 471.46 L99.0 469.63 L100.0 468.30 L101.0 467.98 L102.0 468.46 L103.0 469.71 L104.0 471.65 L105.0 474.19 L106.0 477.21 L107.0 480.61 L108.0 484.28 L109.0 488.10 L110.0 492.00 L111.0 495.90 L112.0 499.75 L113.0 503.51 L114.0 507.16 L115.0 510.68 L116.0 514.06 L117.0 517.30 L118.0 520.39 L119.0 523.31 L120.0 526.05 L121.0 528.59 L122.0 530.91 L123.0 533.01 L124.0 534.86 L125.0 536.47 L126.0 537.85 L127.0 539.00 L128.0 539.73 L129.0 540.39 L130.0 540.85 L131.0 541.12 L132.0 541.22 L133.0 541.40 L134.0 541.04 L135.0 540.50 L136.0 539.77 L137.0 539.50 L138.0 538.20 L139.0 536.57 L140.0 534.57 L141.0 532.14 L142.0 529.24 L143.0 525.82 L144.0 521.85 L145.0 517.30 L146.0 512.18 L147.0 506.50 L148.0 500.30 L149.0 493.67 L150.0 486.68 L151.0 479.47 L152.0 472.20 L153.0 465.02 L154.0 458.12 L155.0 451.70 L156.0 445.95 L157.0 441.04 L158.0 437.13 L159.0 434.36 L160.0 432.82 L161.0 432.56 L162.0 432.92 L163.0 434.94 L164.0 438.05 L165.0 442.13 L166.0 447.01 L167.0 452.53 L168.0 458.49 L169.0 464.70 L170.0 471.01 L171.0 477.26 L172.0 483.32 L173.0 489.12 L174.0 494.58 L175.0 499.68 L176.0 504.41 L177.0 508.78 L178.0 512.81 L179.0 516.52 L180.0 519.94 L181.0 523.09 L182.0 525.98 L183.0 528.63 L184.0 529.46 L185.0 531.34 L186.0 532.94 L187.0 536.23 L188.0 536.75 L189.0 537.13 L190.0 537.35 L191.0 537.43 L192.0 537.35 L193.0 537.12 L194.0 536.77 L195.0 536.30 L196.0 536.11 L197.0 535.34 L198.0 534.54 L199.0 533.73 L200.0 532.89 L201.0 532.05 L202.0 531.22 L203.0 530.40 L204.0 529.59 L205.0 528.83" fill="none" stroke="#ff0000" stroke-width="1.2"/>
<path d="M72.0 541.90 L73.0 541.56 L74.0 541.13 L75.0 540.59 L76.0 539.91 L77.0 539.08 L78.0 538.06 L79.0 536.83 L80.0 535.35 L81.0 533.60 L82.0 531.55 L83.0 529.18 L84.0 526.47 L85.0 523.42 L86.0 520.03 L87.0 516.30 L88.0 512.28 L89.0 508.00 L90.0 503.51 L91.0 498.90 L92.0 494.25 L93.0 489.65 L94.0 485.22 L95.0 481.07 L96.0 477.30 L97.0 474.05 L98.0 471.40 L99.0 469.45 L100.0 468.26 L101.0 467.86 L102.0 468.25 L103.0 469.39 L104.0 471.22 L105.0 473.65 L106.0 476.58 L107.0 479.89 L108.0 483.47 L109.0 487.23 L110.0 491.09 L111.0 494.96 L112.0 498.80 L113.0 502.57 L114.0 506.24 L115.0 509.80 L116.0 513.23 L117.0 516.53 L118.0 519.68 L119.0 522.67 L120.0 525.48 L121.0 528.08 L122.0 530.46 L123.0 532.61 L124.0 534.50 L125.0 536.14 L126.0 537.53 L127.0 538.67 L128.0 539.57 L129.0 540.26 L130.0 540.74 L131.0 541.03 L132.0 541.13 L133.0 541.06 L134.0 540.80 L135.0 540.33 L136.0 539.64 L137.0 538.70 L138.0 537.47 L139.0 535.91 L140.0 533.98 L141.0 531.61 L142.0 528.78 L143.0 525.43 L144.0 521.54 L145.0 517.08 L146.0 512.05 L147.0 506.47 L148.0 500.38 L149.0 493.85 L150.0 486.96 L151.0 479.85 L152.0 472.64 L153.0 465.50 L154.0 458.62 L155.0 452.17 L156.0 446.34 L157.0 441.30 L158.0 437.21 L159.0 434.18 L160.0 432.32 L161.0 431.67 L162.0 432.23 L163.0 433.97 L164.0 436.80 L165.0 440.60 L166.0 445.23 L167.0 450.51 L168.0 456.27 L169.0 462.32 L170.0 468.51 L171.0 474.66 L172.0 480.67 L173.0 486.44 L174.0 491.89 L175.0 497.00 L176.0 501.73 L177.0 506.10 L178.0 510.12 L179.0 513.79 L180.0 517.15 L181.0 520.20 L182.0 522.96 L183.0 525.42 L184.0 527.60 L185.0 529.50 L186.0 531.11 L187.0 532.44 L188.0 533.50 L189.0 534.31 L190.0 534.86 L191.0 535.20 L192.0 535.34 L193.0 535.30 L194.0 535.11 L195.0 534.79 L196.0 534.37 L197.0 533.85 L198.0 533.27 L199.0 532.64 L200.0 531.96 L201.0 531.26 L202.0 530.54 L203.0 529.82 L204.0 529.11 L205.0 528.41 L206.0 527.75 L207.0 527.14 L208.0 526.57 L209.0 526.07 L210.0 525.64 L211.0 525.29 L212.0 525.03 L213.0 524.86 L214.0 524.79 L215.0 524.81 L216.0 524.93 L217.0 525.15 L218.0 525.45 L219.0 525.85 L220.0 526.32 L221.0 526.86 L222.0 527.46 L223.0 528.12 L224.0 528.81 L225.0 529.53 L226.0 530.27 L227.0 531.03 L228.0 531.78 L229.0 532.52 L230.0 533.25 L231.0 533.95 L232.0 534.63 L233.0 535.28 L234.0 535.90 L235.0 536.49 L236.0 537.05 L237.0 537.58 L238.0 538.08 L239.0 538.56 L240.0 539.01 L241.0 539.43 L242.0 539.84 L243.0 540.22 L244.0 540.58 L245.0 540.93 L246.0 541.25 L247.0 541.55 L248.0 541.82 L249.0 542.08 L250.0 542.31 L251.0 542.52 L252.0 542.70 L253.0 542.87 L254.0 543.01 L255.0 543.13 L256.0 543.24 L257.0 543.32 L257.7 543.37" fill="none" stroke="#000" stroke-width="2.3" stroke-dasharray="7 4.5"/>
<path d="M184.0 542.13 L185.0 541.86 L186.0 541.55 L187.0 541.20 L188.0 540.81 L189.0 540.38 L190.0 539.90 L191.0 539.38 L192.0 538.81 L193.0 538.20 L194.0 537.54 L195.0 536.84 L196.0 536.11 L197.0 535.34 L198.0 534.54 L199.0 533.73 L200.0 532.89 L201.0 532.05 L202.0 531.22 L203.0 530.40 L204.0 529.59 L205.0 528.83 L206.0 528.10 L207.0 527.43 L208.0 526.82 L209.0 526.28 L210.0 525.82 L211.0 525.45 L212.0 525.17 L213.0 524.99 L214.0 524.90 L215.0 524.92 L216.0 525.05 L217.0 525.27 L218.0 525.58 L219.0 525.99 L220.0 526.48 L221.0 527.05 L222.0 527.69 L223.0 528.38 L224.0 529.13 L225.0 529.91 L226.0 530.72 L227.0 531.55 L228.0 532.39 L229.0 533.23 L230.0 534.05 L231.0 534.86 L232.0 535.65 L233.0 536.41 L234.0 537.13 L235.0 537.81 L236.0 538.45 L237.0 539.04 L238.0 539.59 L239.0 540.10 L240.0 540.56 L241.0 540.97 L242.0 541.35 L243.0 541.68 L244.0 541.97 L245.0 542.23 L246.0 542.46 L247.0 542.66 L248.0 542.83 L249.0 542.98 L250.0 543.10 L251.0 543.21 L252.0 543.30 L253.0 543.37 L254.0 543.44 L255.0 543.49 L256.0 543.53 L257.0 543.57 L257.7 543.59" fill="none" stroke="#7f7f7f" stroke-width="2.2"/>
<path d="M72.0 541.95 L73.0 541.62 L74.0 541.20 L75.0 540.67 L76.0 540.01 L77.0 539.19 L78.0 538.18 L79.0 536.96 L80.0 535.50 L81.0 533.76 L82.0 531.72 L83.0 529.35 L84.0 526.64 L85.0 523.58 L86.0 520.17 L87.0 516.42 L88.0 512.37 L89.0 508.06 L90.0 503.55 L91.0 498.90 L92.0 494.22 L93.0 489.59 L94.0 485.14 L95.0 480.99 L96.0 477.24 L97.0 474.03 L98.0 471.46 L99.0 469.63 L100.0 468.61 L101.0 468.44 L102.0 469.12 L103.0 470.64 L104.0 472.92 L105.0 475.89 L106.0 479.43 L107.0 483.44 L108.0 487.79 L109.0 492.35 L110.0 497.03 L111.0 501.70 L112.0 506.28 L113.0 510.68 L114.0 514.84 L115.0 518.71 L116.0 522.25 L117.0 525.45 L118.0 528.30 L119.0 530.81 L120.0 532.98 L121.0 534.84 L122.0 536.41 L123.0 537.72 L124.0 538.81 L125.0 539.70 L126.0 540.42 L127.0 541.00 L128.0 541.46 L129.0 541.83 L130.0 542.12 L131.0 542.34 L132.0 542.52 L133.0 542.66 L134.0 542.77 L135.0 542.86 L136.0 542.93" fill="none" stroke="#ff0000" stroke-width="2.25"/>
<path d="M128.0 543.48 L129.0 543.38 L130.0 543.24 L131.0 543.05 L132.0 542.79 L133.0 542.44 L134.0 541.96 L135.0 541.34 L136.0 540.54 L137.0 539.50 L138.0 538.20 L139.0 536.57 L140.0 534.57 L141.0 532.14 L142.0 529.24 L143.0 525.82 L144.0 521.85 L145.0 517.30 L146.0 512.18 L147.0 506.50 L148.0 500.30 L149.0 493.67 L150.0 486.68 L151.0 479.47 L152.0 472.20 L153.0 465.02 L154.0 458.12 L155.0 451.70 L156.0 445.95 L157.0 441.04 L158.0 437.13 L159.0 434.36 L160.0 432.82 L161.0 432.56 L162.0 433.59 L163.0 435.88 L164.0 439.35 L165.0 443.87 L166.0 449.31 L167.0 455.49 L168.0 462.21 L169.0 469.30 L170.0 476.56 L171.0 483.82 L172.0 490.91 L173.0 497.70 L174.0 504.08 L175.0 509.97 L176.0 515.32 L177.0 520.10 L178.0 524.30 L179.0 527.94 L180.0 531.04 L181.0 533.65 L182.0 535.82 L183.0 537.59 L184.0 539.02 L185.0 540.15 L186.0 541.04" fill="none" stroke="#ff0000" stroke-width="2.25"/>
<path d="M100.0 543.39 L101.0 543.24 L102.0 543.04 L103.0 542.77 L104.0 542.43 L105.0 542.00 L106.0 541.48 L107.0 540.88 L108.0 540.19 L109.0 539.45 L110.0 538.67 L111.0 537.90 L112.0 537.17 L113.0 536.53 L114.0 536.02 L115.0 535.67 L116.0 535.51 L117.0 535.55 L118.0 535.79 L119.0 536.20 L120.0 536.77 L121.0 537.45 L122.0 538.21 L123.0 538.98 L124.0 539.75 L125.0 540.47 L126.0 541.13 L127.0 541.70 L128.0 542.18 L129.0 542.58 L130.0 542.89 L131.0 543.13 L132.0 543.31 L132.6 543.39" fill="none" stroke="#0a0aff" stroke-width="2.0"/>
<path d="M162.0 543.03 L163.0 542.76 L164.0 542.41 L165.0 541.96 L166.0 541.41 L167.0 540.74 L168.0 539.97 L169.0 539.10 L170.0 538.15 L171.0 537.14 L172.0 536.12 L173.0 535.12 L174.0 534.20 L175.0 533.41 L176.0 532.79 L177.0 532.38 L178.0 532.20 L179.0 532.28 L180.0 532.60 L181.0 533.14 L182.0 533.86 L183.0 534.74 L184.0 535.71 L185.0 536.73 L186.0 537.75 L187.0 538.73 L188.0 539.64 L189.0 540.45 L190.0 541.15 L191.0 541.75 L192.0 542.24 L193.0 542.63 L194.0 542.93 L195.0 543.16" fill="none" stroke="#0a0aff" stroke-width="2.0"/>
<path d="M322.0 543.57 L323.0 543.55 L324.0 543.51 L325.0 542.50 L326.0 542.20 L327.0 541.83 L328.0 541.39 L329.0 540.86 L330.0 540.27 L331.0 539.63 L332.0 538.96 L333.0 538.27 L334.0 537.58 L335.0 536.89 L336.0 536.18 L337.0 535.44 L338.0 534.63 L339.0 533.72 L340.0 532.69 L341.0 531.52 L342.0 530.21 L343.0 528.75 L344.0 527.16 L345.0 525.44 L346.0 523.62 L347.0 521.69 L348.0 519.69 L349.0 517.62 L350.0 515.10 L351.0 512.87 L352.0 510.61 L353.0 508.36 L354.0 506.11 L355.0 503.90 L356.0 501.74 L357.0 499.65 L358.0 497.66 L359.0 495.77 L360.0 493.91 L361.0 492.26 L362.0 490.74 L363.0 489.36 L364.0 488.14 L365.0 487.06 L366.0 486.14 L367.0 485.35 L368.0 484.71 L369.0 484.20 L370.0 483.82 L371.0 483.55 L372.0 483.40 L373.0 483.35 L374.0 483.41 L375.0 483.56 L376.0 483.81 L377.0 484.13 L378.0 484.52 L379.0 484.95 L380.0 485.41 L381.0 485.85 L382.0 486.22 L383.0 486.49 L384.0 486.59 L385.0 486.49 L386.0 486.17 L387.0 485.61 L388.0 484.83 L389.0 483.87 L390.0 482.75 L391.0 481.50 L392.0 480.12 L393.0 478.57 L394.0 476.83 L395.0 474.82 L396.0 472.52 L397.0 469.88 L398.0 466.93 L399.0 463.70 L400.0 460.25 L401.0 456.66 L402.0 453.01 L403.0 449.40 L404.0 445.90 L405.0 442.61 L406.0 438.72 L407.0 435.87 L408.0 434.23 L409.0 432.04 L410.0 430.31 L411.0 429.07 L412.0 428.35 L413.0 428.14 L414.0 428.45 L415.0 429.26 L416.0 430.55 L417.0 432.29 L418.0 434.45 L419.0 436.98 L420.0 439.84 L421.0 442.99 L422.0 446.36 L423.0 449.93 L424.0 453.63 L425.0 457.42 L426.0 461.27 L427.0 465.13 L428.0 468.97 L429.0 472.77 L430.0 476.51 L431.0 480.17 L432.0 483.74 L433.0 487.22 L434.0 490.59 L435.0 493.86 L436.0 497.03 L437.0 500.09 L438.0 503.05 L439.0 505.91 L440.0 508.66 L441.0 511.31 L442.0 513.86 L443.0 516.30 L444.0 518.63 L445.0 520.84 L446.0 522.94 L447.0 524.92 L448.0 526.78 L449.0 528.52 L450.0 530.14 L451.0 531.64 L452.0 533.01 L453.0 534.27 L454.0 535.42 L455.0 536.45 L456.0 537.39 L457.0 538.22 L458.0 538.97 L459.0 539.63 L460.0 540.21 L461.0 540.72 L462.0 541.17 L463.0 541.55 L464.0 541.89 L465.0 542.17 L466.0 542.47" fill="none" stroke="#ff0000" stroke-width="1.2"/>
<path d="M318.0 543.34 L319.0 543.28 L320.0 543.20 L321.0 543.10 L322.0 542.97 L323.0 542.81 L324.0 542.61 L325.0 542.36 L326.0 542.04 L327.0 541.65 L328.0 541.18 L329.0 540.63 L330.0 540.01 L331.0 539.34 L332.0 538.63 L333.0 537.91 L334.0 537.18 L335.0 536.45 L336.0 535.71 L337.0 534.93 L338.0 534.08 L339.0 533.14 L340.0 532.08 L341.0 530.87 L342.0 529.53 L343.0 528.04 L344.0 526.42 L345.0 524.67 L346.0 522.82 L347.0 520.87 L348.0 518.85 L349.0 516.75 L350.0 514.61 L351.0 512.44 L352.0 510.24 L353.0 508.06 L354.0 505.89 L355.0 503.76 L356.0 501.69 L357.0 499.70 L358.0 497.80 L359.0 496.02 L360.0 494.35 L361.0 492.83 L362.0 491.45 L363.0 490.21 L364.0 489.14 L365.0 488.22 L366.0 487.45 L367.0 486.84 L368.0 486.36 L369.0 486.03 L370.0 485.82 L371.0 485.73 L372.0 485.75 L373.0 485.86 L374.0 486.07 L375.0 486.36 L376.0 486.71 L377.0 487.11 L378.0 487.56 L379.0 488.01 L380.0 488.45 L381.0 488.84 L382.0 489.15 L383.0 489.32 L384.0 489.31 L385.0 489.10 L386.0 488.65 L387.0 487.95 L388.0 487.02 L389.0 485.88 L390.0 484.54 L391.0 483.04 L392.0 481.36 L393.0 479.49 L394.0 477.42 L395.0 475.09 L396.0 472.49 L397.0 469.60 L398.0 466.45 L399.0 463.07 L400.0 459.51 L401.0 455.85 L402.0 452.16 L403.0 448.53 L404.0 445.02 L405.0 441.70 L406.0 438.65 L407.0 435.92 L408.0 433.56 L409.0 431.61 L410.0 430.10 L411.0 429.07 L412.0 428.53 L413.0 428.49 L414.0 428.94 L415.0 429.88 L416.0 431.30 L417.0 433.16 L418.0 435.44 L419.0 438.10 L420.0 441.10 L421.0 444.39 L422.0 447.94 L423.0 451.69 L424.0 455.59 L425.0 459.61 L426.0 463.70 L427.0 467.81 L428.0 471.92 L429.0 475.98 L430.0 479.99 L431.0 483.90 L432.0 487.70 L433.0 491.38 L434.0 494.93 L435.0 498.34 L436.0 501.60 L437.0 504.71 L438.0 507.67 L439.0 510.49 L440.0 513.16 L441.0 515.68 L442.0 518.06 L443.0 520.30 L444.0 522.41 L445.0 524.38 L446.0 526.23 L447.0 527.94 L448.0 529.54 L449.0 531.02 L450.0 532.39 L451.0 533.64 L452.0 534.79 L453.0 535.84 L454.0 536.79 L455.0 537.65 L456.0 538.42 L457.0 539.11 L458.0 539.73 L459.0 540.28 L460.0 540.76 L461.0 541.19 L462.0 541.56 L463.0 541.88 L464.0 542.16 L465.0 542.40 L466.0 542.60 L467.0 542.78 L468.0 542.93 L469.0 543.05 L470.0 543.15" fill="none" stroke="#000" stroke-width="2.3" stroke-dasharray="7 4.5"/>
<path d="M325.0 542.66 L326.0 542.46 L327.0 542.22 L328.0 541.94 L329.0 541.61 L330.0 541.24 L331.0 540.80 L332.0 540.30 L333.0 539.73 L334.0 539.08 L335.0 538.35 L336.0 537.53 L337.0 536.61 L338.0 535.59 L339.0 534.47 L340.0 533.25 L341.0 531.91 L342.0 530.47 L343.0 528.91 L344.0 527.25 L345.0 525.50 L346.0 523.64 L347.0 521.71 L348.0 519.70 L349.0 517.63 L350.0 515.52 L351.0 513.38 L352.0 511.24 L353.0 509.10 L354.0 507.01 L355.0 504.97 L356.0 503.01 L357.0 501.16 L358.0 499.44 L359.0 497.86 L360.0 496.46 L361.0 495.25 L362.0 494.24 L363.0 493.45 L364.0 492.90 L365.0 492.58 L366.0 492.50 L367.0 492.68 L368.0 493.09 L369.0 493.74 L370.0 494.62 L371.0 495.71 L372.0 497.00 L373.0 498.47 L374.0 500.11 L375.0 501.89 L376.0 503.78 L377.0 505.78 L378.0 507.84 L379.0 509.95 L380.0 512.09 L381.0 514.24 L382.0 516.37 L383.0 518.47 L384.0 520.51 L385.0 522.49 L386.0 524.40 L387.0 526.21 L388.0 527.93 L389.0 529.55 L390.0 531.06 L391.0 532.46 L392.0 533.75 L393.0 534.93 L394.0 536.01 L395.0 536.99 L396.0 537.87 L397.0 538.65 L398.0 539.35 L399.0 539.97 L400.0 540.51 L401.0 540.98 L402.0 541.39 L403.0 541.75 L404.0 542.06 L405.0 542.32 L406.0 542.54 L407.0 542.73 L408.0 542.89 L409.0 543.02 L410.0 543.13 L411.0 543.22 L412.0 543.29 L413.0 543.36 L414.0 543.41 L415.0 543.45 L416.0 543.48 L417.0 543.50 L418.0 543.53 L419.0 543.54 L420.0 543.56 L421.0 543.57 L422.0 543.57 L423.0 543.58 L424.0 543.58 L425.0 543.59" fill="none" stroke="#ff0000" stroke-width="2.25"/>
<path d="M360.0 543.51 L361.0 543.48 L362.0 543.45 L363.0 543.40 L364.0 543.35 L365.0 543.28 L366.0 543.19 L367.0 543.07 L368.0 542.93 L369.0 542.76 L370.0 542.55 L371.0 542.30 L372.0 541.99 L373.0 541.61 L374.0 541.16 L375.0 540.63 L376.0 540.00 L377.0 539.26 L378.0 538.39 L379.0 537.38 L380.0 536.21 L381.0 534.88 L382.0 533.35 L383.0 531.62 L384.0 529.67 L385.0 527.49 L386.0 525.07 L387.0 522.40 L388.0 519.46 L389.0 516.26 L390.0 512.80 L391.0 509.08 L392.0 505.12 L393.0 500.93 L394.0 496.53 L395.0 491.94 L396.0 487.21 L397.0 482.37 L398.0 477.45 L399.0 472.52 L400.0 467.62 L401.0 462.81 L402.0 458.14 L403.0 453.67 L404.0 449.47 L405.0 445.59 L406.0 442.08 L407.0 438.99 L408.0 436.38 L409.0 434.28 L410.0 432.72 L411.0 431.72 L412.0 431.31 L413.0 431.49 L414.0 432.25 L415.0 433.59 L416.0 435.48 L417.0 437.89 L418.0 440.79 L419.0 444.14 L420.0 447.88 L421.0 451.96 L422.0 456.32 L423.0 460.92 L424.0 465.68 L425.0 470.55 L426.0 475.48 L427.0 480.41 L428.0 485.28 L429.0 490.07 L430.0 494.71 L431.0 499.19 L432.0 503.47 L433.0 507.53 L434.0 511.34 L435.0 514.91 L436.0 518.21 L437.0 521.25 L438.0 524.03 L439.0 526.56 L440.0 528.83 L441.0 530.87 L442.0 532.69 L443.0 534.29 L444.0 535.70 L445.0 536.93 L446.0 538.00 L447.0 538.92 L448.0 539.72 L449.0 540.39 L450.0 540.96 L451.0 541.44 L452.0 541.84 L453.0 542.18 L454.0 542.46 L455.0 542.68 L456.0 542.87 L457.0 543.02 L458.0 543.14 L459.0 543.24 L460.0 543.32 L461.0 543.38 L462.0 543.43 L463.0 543.47 L464.0 543.50 L465.0 543.53" fill="none" stroke="#ff0000" stroke-width="2.25"/>
<path d="M350.0 543.19 L351.0 543.10 L352.0 543.00 L353.0 542.89 L354.0 542.75 L355.0 542.60 L356.0 542.43 L357.0 542.24 L358.0 542.03 L359.0 541.80 L360.0 541.54 L361.0 541.27 L362.0 540.97 L363.0 540.65 L364.0 540.32 L365.0 539.96 L366.0 539.60 L367.0 539.23 L368.0 538.85 L369.0 538.47 L370.0 538.09 L371.0 537.72 L372.0 537.37 L373.0 537.03 L374.0 536.72 L375.0 536.44 L376.0 536.19 L377.0 535.98 L378.0 535.82 L379.0 535.70 L380.0 535.62 L381.0 535.60 L382.0 535.62 L383.0 535.70 L384.0 535.82 L385.0 535.98 L386.0 536.19 L387.0 536.44 L388.0 536.72 L389.0 537.03 L390.0 537.37 L391.0 537.72 L392.0 538.09 L393.0 538.47 L394.0 538.85 L395.0 539.23 L396.0 539.60 L397.0 539.96 L398.0 540.32 L399.0 540.65 L400.0 540.97 L401.0 541.27 L402.0 541.54 L403.0 541.80 L404.0 542.03 L405.0 542.24 L406.0 542.43 L407.0 542.60" fill="none" stroke="#0a0aff" stroke-width="2.0"/>
<path d="M406.0 542.72 L407.0 542.54 L408.0 542.34 L409.0 542.10 L410.0 541.82 L411.0 541.52 L412.0 541.17 L413.0 540.78 L414.0 540.35 L415.0 539.87 L416.0 539.35 L417.0 538.79 L418.0 538.19 L419.0 537.55 L420.0 536.88 L421.0 536.18 L422.0 535.46 L423.0 534.72 L424.0 533.97 L425.0 533.23 L426.0 532.49 L427.0 531.78 L428.0 531.10 L429.0 530.46 L430.0 529.87 L431.0 529.35 L432.0 528.89 L433.0 528.51 L434.0 528.22 L435.0 528.02 L436.0 527.92 L437.0 527.91 L438.0 527.99 L439.0 528.18 L440.0 528.45 L441.0 528.81 L442.0 529.25 L443.0 529.76 L444.0 530.34 L445.0 530.97 L446.0 531.64 L447.0 532.35 L448.0 533.08 L449.0 533.82 L450.0 534.57 L451.0 535.31 L452.0 536.04 L453.0 536.74 L454.0 537.42 L455.0 538.07 L456.0 538.68 L457.0 539.24 L458.0 539.77 L459.0 540.25 L460.0 540.69 L461.0 541.09 L462.0 541.45 L463.0 541.77 L464.0 542.05 L465.0 542.29 L466.0 542.50 L467.0 542.69 L468.0 542.85 L469.0 542.98" fill="none" stroke="#0a0aff" stroke-width="2.0"/>
<path d="M71.0 3.6 H258.7 V142.0 H71.0 Z" fill="none" stroke="#1a1a1a" stroke-width="1.8"/>
<line x1="71.0" y1="3.6" x2="71.0" y2="10.1" stroke="#1a1a1a" stroke-width="1.6"/>
<line x1="71.0" y1="142.0" x2="71.0" y2="147.8" stroke="#1a1a1a" stroke-width="1.6"/>
<text x="71.0" y="162.7" font-size="13" font-weight="bold" text-anchor="middle" fill="#111" >234</text>
<line x1="108.5" y1="3.6" x2="108.5" y2="10.1" stroke="#1a1a1a" stroke-width="1.6"/>
<line x1="108.5" y1="142.0" x2="108.5" y2="147.8" stroke="#1a1a1a" stroke-width="1.6"/>
<text x="108.5" y="162.7" font-size="13" font-weight="bold" text-anchor="middle" fill="#111" >232</text>
<line x1="146.1" y1="3.6" x2="146.1" y2="10.1" stroke="#1a1a1a" stroke-width="1.6"/>
<line x1="146.1" y1="142.0" x2="146.1" y2="147.8" stroke="#1a1a1a" stroke-width="1.6"/>
<text x="146.1" y="162.7" font-size="13" font-weight="bold" text-anchor="middle" fill="#111" >230</text>
<line x1="183.6" y1="3.6" x2="183.6" y2="10.1" stroke="#1a1a1a" stroke-width="1.6"/>
<line x1="183.6" y1="142.0" x2="183.6" y2="147.8" stroke="#1a1a1a" stroke-width="1.6"/>
<text x="183.6" y="162.7" font-size="13" font-weight="bold" text-anchor="middle" fill="#111" >228</text>
<line x1="221.2" y1="3.6" x2="221.2" y2="10.1" stroke="#1a1a1a" stroke-width="1.6"/>
<line x1="221.2" y1="142.0" x2="221.2" y2="147.8" stroke="#1a1a1a" stroke-width="1.6"/>
<text x="221.2" y="162.7" font-size="13" font-weight="bold" text-anchor="middle" fill="#111" >226</text>
<line x1="258.7" y1="3.6" x2="258.7" y2="10.1" stroke="#1a1a1a" stroke-width="1.6"/>
<line x1="258.7" y1="142.0" x2="258.7" y2="147.8" stroke="#1a1a1a" stroke-width="1.6"/>
<text x="258.7" y="162.7" font-size="13" font-weight="bold" text-anchor="middle" fill="#111" >224</text>
<line x1="89.8" y1="3.6" x2="89.8" y2="6.8" stroke="#1a1a1a" stroke-width="1.4"/>
<line x1="89.8" y1="142.0" x2="89.8" y2="145.4" stroke="#1a1a1a" stroke-width="1.4"/>
<line x1="127.3" y1="3.6" x2="127.3" y2="6.8" stroke="#1a1a1a" stroke-width="1.4"/>
<line x1="127.3" y1="142.0" x2="127.3" y2="145.4" stroke="#1a1a1a" stroke-width="1.4"/>
<line x1="164.8" y1="3.6" x2="164.8" y2="6.8" stroke="#1a1a1a" stroke-width="1.4"/>
<line x1="164.8" y1="142.0" x2="164.8" y2="145.4" stroke="#1a1a1a" stroke-width="1.4"/>
<line x1="202.4" y1="3.6" x2="202.4" y2="6.8" stroke="#1a1a1a" stroke-width="1.4"/>
<line x1="202.4" y1="142.0" x2="202.4" y2="145.4" stroke="#1a1a1a" stroke-width="1.4"/>
<line x1="239.9" y1="3.6" x2="239.9" y2="6.8" stroke="#1a1a1a" stroke-width="1.4"/>
<line x1="239.9" y1="142.0" x2="239.9" y2="145.4" stroke="#1a1a1a" stroke-width="1.4"/>
<text transform="translate(166.0 181.0) scale(1.05 1)" font-size="15.9" text-anchor="middle" fill="#111">Binding energy (eV)</text>
<text transform="translate(60.0 74.6) rotate(-90) scale(1.05 1)" font-size="15.9" text-anchor="middle" fill="#111">Intensity (a.u.)</text>
<path d="M300.6 3.6 H488.0 V142.0 H300.6 Z" fill="none" stroke="#1a1a1a" stroke-width="1.8"/>
<line x1="300.6" y1="3.6" x2="300.6" y2="10.1" stroke="#1a1a1a" stroke-width="1.6"/>
<line x1="300.6" y1="142.0" x2="300.6" y2="147.8" stroke="#1a1a1a" stroke-width="1.6"/>
<text x="300.6" y="162.7" font-size="13" font-weight="bold" text-anchor="middle" fill="#111" >165</text>
<line x1="338.1" y1="3.6" x2="338.1" y2="10.1" stroke="#1a1a1a" stroke-width="1.6"/>
<line x1="338.1" y1="142.0" x2="338.1" y2="147.8" stroke="#1a1a1a" stroke-width="1.6"/>
<text x="338.1" y="162.7" font-size="13" font-weight="bold" text-anchor="middle" fill="#111" >164</text>
<line x1="375.6" y1="3.6" x2="375.6" y2="10.1" stroke="#1a1a1a" stroke-width="1.6"/>
<line x1="375.6" y1="142.0" x2="375.6" y2="147.8" stroke="#1a1a1a" stroke-width="1.6"/>
<text x="375.6" y="162.7" font-size="13" font-weight="bold" text-anchor="middle" fill="#111" >163</text>
<line x1="413.0" y1="3.6" x2="413.0" y2="10.1" stroke="#1a1a1a" stroke-width="1.6"/>
<line x1="413.0" y1="142.0" x2="413.0" y2="147.8" stroke="#1a1a1a" stroke-width="1.6"/>
<text x="413.0" y="162.7" font-size="13" font-weight="bold" text-anchor="middle" fill="#111" >162</text>
<line x1="450.5" y1="3.6" x2="450.5" y2="10.1" stroke="#1a1a1a" stroke-width="1.6"/>
<line x1="450.5" y1="142.0" x2="450.5" y2="147.8" stroke="#1a1a1a" stroke-width="1.6"/>
<text x="450.5" y="162.7" font-size="13" font-weight="bold" text-anchor="middle" fill="#111" >161</text>
<line x1="488.0" y1="3.6" x2="488.0" y2="10.1" stroke="#1a1a1a" stroke-width="1.6"/>
<line x1="488.0" y1="142.0" x2="488.0" y2="147.8" stroke="#1a1a1a" stroke-width="1.6"/>
<text x="488.0" y="162.7" font-size="13" font-weight="bold" text-anchor="middle" fill="#111" >160</text>
<line x1="319.3" y1="3.6" x2="319.3" y2="6.8" stroke="#1a1a1a" stroke-width="1.4"/>
<line x1="319.3" y1="142.0" x2="319.3" y2="145.4" stroke="#1a1a1a" stroke-width="1.4"/>
<line x1="356.8" y1="3.6" x2="356.8" y2="6.8" stroke="#1a1a1a" stroke-width="1.4"/>
<line x1="356.8" y1="142.0" x2="356.8" y2="145.4" stroke="#1a1a1a" stroke-width="1.4"/>
<line x1="394.3" y1="3.6" x2="394.3" y2="6.8" stroke="#1a1a1a" stroke-width="1.4"/>
<line x1="394.3" y1="142.0" x2="394.3" y2="145.4" stroke="#1a1a1a" stroke-width="1.4"/>
<line x1="431.8" y1="3.6" x2="431.8" y2="6.8" stroke="#1a1a1a" stroke-width="1.4"/>
<line x1="431.8" y1="142.0" x2="431.8" y2="145.4" stroke="#1a1a1a" stroke-width="1.4"/>
<line x1="469.3" y1="3.6" x2="469.3" y2="6.8" stroke="#1a1a1a" stroke-width="1.4"/>
<line x1="469.3" y1="142.0" x2="469.3" y2="145.4" stroke="#1a1a1a" stroke-width="1.4"/>
<text transform="translate(396.9 181.0) scale(1.05 1)" font-size="15.9" text-anchor="middle" fill="#111">Binding energy (eV)</text>
<text transform="translate(289.6 74.6) rotate(-90) scale(1.05 1)" font-size="15.9" text-anchor="middle" fill="#111">Intensity (a.u.)</text>
<line x1="204.2" y1="12.0" x2="256.2" y2="12.0" stroke="#ff0000" stroke-width="2.6"/>
<text transform="translate(206.6 26.6) scale(1.078 1)" font-size="10.2" font-weight="bold" fill="#111">2H-phase</text>
<line x1="204.2" y1="38.2" x2="256.2" y2="38.2" stroke="#0a14c8" stroke-width="2.6"/>
<text transform="translate(207.0 53.7) scale(1.078 1)" font-size="10.2" font-weight="bold" fill="#111">1T-phase</text>
<line x1="303.6" y1="12.0" x2="355.6" y2="12.0" stroke="#ff0000" stroke-width="2.6"/>
<text transform="translate(304.4 26.6) scale(1.078 1)" font-size="10.2" font-weight="bold" fill="#111">2H-phase</text>
<line x1="303.6" y1="38.2" x2="355.6" y2="38.2" stroke="#0a14c8" stroke-width="2.6"/>
<text transform="translate(304.8 53.7) scale(1.078 1)" font-size="10.2" font-weight="bold" fill="#111">1T-phase</text>
<path d="M71.0 204.8 H258.7 V343.5 H71.0 Z" fill="none" stroke="#1a1a1a" stroke-width="1.8"/>
<line x1="71.0" y1="204.8" x2="71.0" y2="211.3" stroke="#1a1a1a" stroke-width="1.6"/>
<line x1="71.0" y1="343.5" x2="71.0" y2="349.3" stroke="#1a1a1a" stroke-width="1.6"/>
<text x="71.0" y="364.5" font-size="13" font-weight="bold" text-anchor="middle" fill="#111" >234</text>
<line x1="108.5" y1="204.8" x2="108.5" y2="211.3" stroke="#1a1a1a" stroke-width="1.6"/>
<line x1="108.5" y1="343.5" x2="108.5" y2="349.3" stroke="#1a1a1a" stroke-width="1.6"/>
<text x="108.5" y="364.5" font-size="13" font-weight="bold" text-anchor="middle" fill="#111" >232</text>
<line x1="146.1" y1="204.8" x2="146.1" y2="211.3" stroke="#1a1a1a" stroke-width="1.6"/>
<line x1="146.1" y1="343.5" x2="146.1" y2="349.3" stroke="#1a1a1a" stroke-width="1.6"/>
<text x="146.1" y="364.5" font-size="13" font-weight="bold" text-anchor="middle" fill="#111" >230</text>
<line x1="183.6" y1="204.8" x2="183.6" y2="211.3" stroke="#1a1a1a" stroke-width="1.6"/>
<line x1="183.6" y1="343.5" x2="183.6" y2="349.3" stroke="#1a1a1a" stroke-width="1.6"/>
<text x="183.6" y="364.5" font-size="13" font-weight="bold" text-anchor="middle" fill="#111" >228</text>
<line x1="221.2" y1="204.8" x2="221.2" y2="211.3" stroke="#1a1a1a" stroke-width="1.6"/>
<line x1="221.2" y1="343.5" x2="221.2" y2="349.3" stroke="#1a1a1a" stroke-width="1.6"/>
<text x="221.2" y="364.5" font-size="13" font-weight="bold" text-anchor="middle" fill="#111" >226</text>
<line x1="258.7" y1="204.8" x2="258.7" y2="211.3" stroke="#1a1a1a" stroke-width="1.6"/>
<line x1="258.7" y1="343.5" x2="258.7" y2="349.3" stroke="#1a1a1a" stroke-width="1.6"/>
<text x="258.7" y="364.5" font-size="13" font-weight="bold" text-anchor="middle" fill="#111" >224</text>
<line x1="89.8" y1="204.8" x2="89.8" y2="208.0" stroke="#1a1a1a" stroke-width="1.4"/>
<line x1="89.8" y1="343.5" x2="89.8" y2="346.9" stroke="#1a1a1a" stroke-width="1.4"/>
<line x1="127.3" y1="204.8" x2="127.3" y2="208.0" stroke="#1a1a1a" stroke-width="1.4"/>
<line x1="127.3" y1="343.5" x2="127.3" y2="346.9" stroke="#1a1a1a" stroke-width="1.4"/>
<line x1="164.8" y1="204.8" x2="164.8" y2="208.0" stroke="#1a1a1a" stroke-width="1.4"/>
<line x1="164.8" y1="343.5" x2="164.8" y2="346.9" stroke="#1a1a1a" stroke-width="1.4"/>
<line x1="202.4" y1="204.8" x2="202.4" y2="208.0" stroke="#1a1a1a" stroke-width="1.4"/>
<line x1="202.4" y1="343.5" x2="202.4" y2="346.9" stroke="#1a1a1a" stroke-width="1.4"/>
<line x1="239.9" y1="204.8" x2="239.9" y2="208.0" stroke="#1a1a1a" stroke-width="1.4"/>
<line x1="239.9" y1="343.5" x2="239.9" y2="346.9" stroke="#1a1a1a" stroke-width="1.4"/>
<text transform="translate(166.0 380.5) scale(1.05 1)" font-size="15.9" text-anchor="middle" fill="#111">Binding energy (eV)</text>
<text transform="translate(60.0 273.6) rotate(-90) scale(1.05 1)" font-size="15.9" text-anchor="middle" fill="#111">Intensity (a.u.)</text>
<path d="M300.6 204.8 H488.0 V343.5 H300.6 Z" fill="none" stroke="#1a1a1a" stroke-width="1.8"/>
<line x1="300.6" y1="204.8" x2="300.6" y2="211.3" stroke="#1a1a1a" stroke-width="1.6"/>
<line x1="300.6" y1="343.5" x2="300.6" y2="349.3" stroke="#1a1a1a" stroke-width="1.6"/>
<text x="300.6" y="364.5" font-size="13" font-weight="bold" text-anchor="middle" fill="#111" >165</text>
<line x1="338.1" y1="204.8" x2="338.1" y2="211.3" stroke="#1a1a1a" stroke-width="1.6"/>
<line x1="338.1" y1="343.5" x2="338.1" y2="349.3" stroke="#1a1a1a" stroke-width="1.6"/>
<text x="338.1" y="364.5" font-size="13" font-weight="bold" text-anchor="middle" fill="#111" >164</text>
<line x1="375.6" y1="204.8" x2="375.6" y2="211.3" stroke="#1a1a1a" stroke-width="1.6"/>
<line x1="375.6" y1="343.5" x2="375.6" y2="349.3" stroke="#1a1a1a" stroke-width="1.6"/>
<text x="375.6" y="364.5" font-size="13" font-weight="bold" text-anchor="middle" fill="#111" >163</text>
<line x1="413.0" y1="204.8" x2="413.0" y2="211.3" stroke="#1a1a1a" stroke-width="1.6"/>
<line x1="413.0" y1="343.5" x2="413.0" y2="349.3" stroke="#1a1a1a" stroke-width="1.6"/>
<text x="413.0" y="364.5" font-size="13" font-weight="bold" text-anchor="middle" fill="#111" >162</text>
<line x1="450.5" y1="204.8" x2="450.5" y2="211.3" stroke="#1a1a1a" stroke-width="1.6"/>
<line x1="450.5" y1="343.5" x2="450.5" y2="349.3" stroke="#1a1a1a" stroke-width="1.6"/>
<text x="450.5" y="364.5" font-size="13" font-weight="bold" text-anchor="middle" fill="#111" >161</text>
<line x1="488.0" y1="204.8" x2="488.0" y2="211.3" stroke="#1a1a1a" stroke-width="1.6"/>
<line x1="488.0" y1="343.5" x2="488.0" y2="349.3" stroke="#1a1a1a" stroke-width="1.6"/>
<text x="488.0" y="364.5" font-size="13" font-weight="bold" text-anchor="middle" fill="#111" >160</text>
<line x1="319.3" y1="204.8" x2="319.3" y2="208.0" stroke="#1a1a1a" stroke-width="1.4"/>
<line x1="319.3" y1="343.5" x2="319.3" y2="346.9" stroke="#1a1a1a" stroke-width="1.4"/>
<line x1="356.8" y1="204.8" x2="356.8" y2="208.0" stroke="#1a1a1a" stroke-width="1.4"/>
<line x1="356.8" y1="343.5" x2="356.8" y2="346.9" stroke="#1a1a1a" stroke-width="1.4"/>
<line x1="394.3" y1="204.8" x2="394.3" y2="208.0" stroke="#1a1a1a" stroke-width="1.4"/>
<line x1="394.3" y1="343.5" x2="394.3" y2="346.9" stroke="#1a1a1a" stroke-width="1.4"/>
<line x1="431.8" y1="204.8" x2="431.8" y2="208.0" stroke="#1a1a1a" stroke-width="1.4"/>
<line x1="431.8" y1="343.5" x2="431.8" y2="346.9" stroke="#1a1a1a" stroke-width="1.4"/>
<line x1="469.3" y1="204.8" x2="469.3" y2="208.0" stroke="#1a1a1a" stroke-width="1.4"/>
<line x1="469.3" y1="343.5" x2="469.3" y2="346.9" stroke="#1a1a1a" stroke-width="1.4"/>
<text transform="translate(396.9 380.5) scale(1.05 1)" font-size="15.9" text-anchor="middle" fill="#111">Binding energy (eV)</text>
<text transform="translate(289.6 273.6) rotate(-90) scale(1.05 1)" font-size="15.9" text-anchor="middle" fill="#111">Intensity (a.u.)</text>
<line x1="205.5" y1="214.6" x2="257.5" y2="214.6" stroke="#ff0000" stroke-width="2.6"/>
<text transform="translate(207.3 229.2) scale(1.078 1)" font-size="10.2" font-weight="bold" fill="#111">2H-phase</text>
<line x1="205.5" y1="240.8" x2="257.5" y2="240.8" stroke="#0a14c8" stroke-width="2.6"/>
<text transform="translate(207.7 256.3) scale(1.078 1)" font-size="10.2" font-weight="bold" fill="#111">1T-phase</text>
<line x1="303.6" y1="214.6" x2="355.6" y2="214.6" stroke="#ff0000" stroke-width="2.6"/>
<text transform="translate(304.4 229.2) scale(1.078 1)" font-size="10.2" font-weight="bold" fill="#111">2H-phase</text>
<line x1="303.6" y1="240.8" x2="355.6" y2="240.8" stroke="#0a14c8" stroke-width="2.6"/>
<text transform="translate(304.8 256.3) scale(1.078 1)" font-size="10.2" font-weight="bold" fill="#111">1T-phase</text>
<path d="M71.0 406.9 H258.7 V544.8 H71.0 Z" fill="none" stroke="#1a1a1a" stroke-width="1.8"/>
<line x1="71.0" y1="406.9" x2="71.0" y2="413.4" stroke="#1a1a1a" stroke-width="1.6"/>
<line x1="71.0" y1="544.8" x2="71.0" y2="550.6" stroke="#1a1a1a" stroke-width="1.6"/>
<text x="71.0" y="566.0" font-size="13" font-weight="bold" text-anchor="middle" fill="#111" >234</text>
<line x1="108.5" y1="406.9" x2="108.5" y2="413.4" stroke="#1a1a1a" stroke-width="1.6"/>
<line x1="108.5" y1="544.8" x2="108.5" y2="550.6" stroke="#1a1a1a" stroke-width="1.6"/>
<text x="108.5" y="566.0" font-size="13" font-weight="bold" text-anchor="middle" fill="#111" >232</text>
<line x1="146.1" y1="406.9" x2="146.1" y2="413.4" stroke="#1a1a1a" stroke-width="1.6"/>
<line x1="146.1" y1="544.8" x2="146.1" y2="550.6" stroke="#1a1a1a" stroke-width="1.6"/>
<text x="146.1" y="566.0" font-size="13" font-weight="bold" text-anchor="middle" fill="#111" >230</text>
<line x1="183.6" y1="406.9" x2="183.6" y2="413.4" stroke="#1a1a1a" stroke-width="1.6"/>
<line x1="183.6" y1="544.8" x2="183.6" y2="550.6" stroke="#1a1a1a" stroke-width="1.6"/>
<text x="183.6" y="566.0" font-size="13" font-weight="bold" text-anchor="middle" fill="#111" >228</text>
<line x1="221.2" y1="406.9" x2="221.2" y2="413.4" stroke="#1a1a1a" stroke-width="1.6"/>
<line x1="221.2" y1="544.8" x2="221.2" y2="550.6" stroke="#1a1a1a" stroke-width="1.6"/>
<text x="221.2" y="566.0" font-size="13" font-weight="bold" text-anchor="middle" fill="#111" >226</text>
<line x1="258.7" y1="406.9" x2="258.7" y2="413.4" stroke="#1a1a1a" stroke-width="1.6"/>
<line x1="258.7" y1="544.8" x2="258.7" y2="550.6" stroke="#1a1a1a" stroke-width="1.6"/>
<text x="258.7" y="566.0" font-size="13" font-weight="bold" text-anchor="middle" fill="#111" >224</text>
<line x1="89.8" y1="406.9" x2="89.8" y2="410.1" stroke="#1a1a1a" stroke-width="1.4"/>
<line x1="89.8" y1="544.8" x2="89.8" y2="548.2" stroke="#1a1a1a" stroke-width="1.4"/>
<line x1="127.3" y1="406.9" x2="127.3" y2="410.1" stroke="#1a1a1a" stroke-width="1.4"/>
<line x1="127.3" y1="544.8" x2="127.3" y2="548.2" stroke="#1a1a1a" stroke-width="1.4"/>
<line x1="164.8" y1="406.9" x2="164.8" y2="410.1" stroke="#1a1a1a" stroke-width="1.4"/>
<line x1="164.8" y1="544.8" x2="164.8" y2="548.2" stroke="#1a1a1a" stroke-width="1.4"/>
<line x1="202.4" y1="406.9" x2="202.4" y2="410.1" stroke="#1a1a1a" stroke-width="1.4"/>
<line x1="202.4" y1="544.8" x2="202.4" y2="548.2" stroke="#1a1a1a" stroke-width="1.4"/>
<line x1="239.9" y1="406.9" x2="239.9" y2="410.1" stroke="#1a1a1a" stroke-width="1.4"/>
<line x1="239.9" y1="544.8" x2="239.9" y2="548.2" stroke="#1a1a1a" stroke-width="1.4"/>
<text transform="translate(166.0 582.0) scale(1.05 1)" font-size="15.9" text-anchor="middle" fill="#111">Binding energy (eV)</text>
<text transform="translate(60.0 475.6) rotate(-90) scale(1.05 1)" font-size="15.9" text-anchor="middle" fill="#111">Intensity (a.u.)</text>
<path d="M300.6 406.9 H488.0 V544.8 H300.6 Z" fill="none" stroke="#1a1a1a" stroke-width="1.8"/>
<line x1="300.6" y1="406.9" x2="300.6" y2="413.4" stroke="#1a1a1a" stroke-width="1.6"/>
<line x1="300.6" y1="544.8" x2="300.6" y2="550.6" stroke="#1a1a1a" stroke-width="1.6"/>
<text x="300.6" y="566.0" font-size="13" font-weight="bold" text-anchor="middle" fill="#111" >165</text>
<line x1="338.1" y1="406.9" x2="338.1" y2="413.4" stroke="#1a1a1a" stroke-width="1.6"/>
<line x1="338.1" y1="544.8" x2="338.1" y2="550.6" stroke="#1a1a1a" stroke-width="1.6"/>
<text x="338.1" y="566.0" font-size="13" font-weight="bold" text-anchor="middle" fill="#111" >164</text>
<line x1="375.6" y1="406.9" x2="375.6" y2="413.4" stroke="#1a1a1a" stroke-width="1.6"/>
<line x1="375.6" y1="544.8" x2="375.6" y2="550.6" stroke="#1a1a1a" stroke-width="1.6"/>
<text x="375.6" y="566.0" font-size="13" font-weight="bold" text-anchor="middle" fill="#111" >163</text>
<line x1="413.0" y1="406.9" x2="413.0" y2="413.4" stroke="#1a1a1a" stroke-width="1.6"/>
<line x1="413.0" y1="544.8" x2="413.0" y2="550.6" stroke="#1a1a1a" stroke-width="1.6"/>
<text x="413.0" y="566.0" font-size="13" font-weight="bold" text-anchor="middle" fill="#111" >162</text>
<line x1="450.5" y1="406.9" x2="450.5" y2="413.4" stroke="#1a1a1a" stroke-width="1.6"/>
<line x1="450.5" y1="544.8" x2="450.5" y2="550.6" stroke="#1a1a1a" stroke-width="1.6"/>
<text x="450.5" y="566.0" font-size="13" font-weight="bold" text-anchor="middle" fill="#111" >161</text>
<line x1="488.0" y1="406.9" x2="488.0" y2="413.4" stroke="#1a1a1a" stroke-width="1.6"/>
<line x1="488.0" y1="544.8" x2="488.0" y2="550.6" stroke="#1a1a1a" stroke-width="1.6"/>
<text x="488.0" y="566.0" font-size="13" font-weight="bold" text-anchor="middle" fill="#111" >160</text>
<line x1="319.3" y1="406.9" x2="319.3" y2="410.1" stroke="#1a1a1a" stroke-width="1.4"/>
<line x1="319.3" y1="544.8" x2="319.3" y2="548.2" stroke="#1a1a1a" stroke-width="1.4"/>
<line x1="356.8" y1="406.9" x2="356.8" y2="410.1" stroke="#1a1a1a" stroke-width="1.4"/>
<line x1="356.8" y1="544.8" x2="356.8" y2="548.2" stroke="#1a1a1a" stroke-width="1.4"/>
<line x1="394.3" y1="406.9" x2="394.3" y2="410.1" stroke="#1a1a1a" stroke-width="1.4"/>
<line x1="394.3" y1="544.8" x2="394.3" y2="548.2" stroke="#1a1a1a" stroke-width="1.4"/>
<line x1="431.8" y1="406.9" x2="431.8" y2="410.1" stroke="#1a1a1a" stroke-width="1.4"/>
<line x1="431.8" y1="544.8" x2="431.8" y2="548.2" stroke="#1a1a1a" stroke-width="1.4"/>
<line x1="469.3" y1="406.9" x2="469.3" y2="410.1" stroke="#1a1a1a" stroke-width="1.4"/>
<line x1="469.3" y1="544.8" x2="469.3" y2="548.2" stroke="#1a1a1a" stroke-width="1.4"/>
<text transform="translate(396.9 582.0) scale(1.05 1)" font-size="15.9" text-anchor="middle" fill="#111">Binding energy (eV)</text>
<text transform="translate(289.6 475.6) rotate(-90) scale(1.05 1)" font-size="15.9" text-anchor="middle" fill="#111">Intensity (a.u.)</text>
<line x1="204.5" y1="417.4" x2="256.5" y2="417.4" stroke="#ff0000" stroke-width="2.6"/>
<text transform="translate(206.7 432.0) scale(1.078 1)" font-size="10.2" font-weight="bold" fill="#111">2H-phase</text>
<line x1="204.5" y1="443.6" x2="256.5" y2="443.6" stroke="#0a14c8" stroke-width="2.6"/>
<text transform="translate(207.1 459.1) scale(1.078 1)" font-size="10.2" font-weight="bold" fill="#111">1T-phase</text>
<line x1="303.6" y1="417.4" x2="355.6" y2="417.4" stroke="#ff0000" stroke-width="2.6"/>
<text transform="translate(304.4 432.0) scale(1.078 1)" font-size="10.2" font-weight="bold" fill="#111">2H-phase</text>
<line x1="303.6" y1="443.6" x2="355.6" y2="443.6" stroke="#0a14c8" stroke-width="2.6"/>
<text transform="translate(304.8 459.1) scale(1.078 1)" font-size="10.2" font-weight="bold" fill="#111">1T-phase</text>
<text transform="translate(79.5 67.0) scale(1.077 1)" font-size="13" font-weight="bold" fill="#111">Mo 3d<tspan font-size="9.3" dx="2.8" dy="2.5">3/2</tspan></text>
<text transform="translate(131.4 22.9) scale(1.077 1)" font-size="13" font-weight="bold" fill="#111">Mo 3d<tspan font-size="9.3" dx="2.8" dy="2.5">5/2</tspan></text>
<text transform="translate(201.6 114.2) scale(1.077 1)" font-size="13" font-weight="bold" fill="#111">S 2s</text>
<text transform="translate(340.2 75.0) scale(1.077 1)" font-size="13" font-weight="bold" fill="#111">S 2p<tspan font-size="9.3" dx="2.8" dy="2.5">1/2</tspan></text>
<text transform="translate(390.3 19.4) scale(1.077 1)" font-size="13" font-weight="bold" fill="#111">S 2p<tspan font-size="9.3" dx="2.8" dy="2.5">3/2</tspan></text>
<text transform="translate(87.6 264.9) scale(1.077 1)" font-size="13" font-weight="bold" fill="#111">Mo 3d<tspan font-size="9.3" dx="2.8" dy="2.5">3/2</tspan></text>
<text transform="translate(142.6 230.0) scale(1.077 1)" font-size="13" font-weight="bold" fill="#111">Mo 3d<tspan font-size="9.3" dx="2.8" dy="2.5">5/2</tspan></text>
<text transform="translate(213.6 320.3) scale(1.077 1)" font-size="13" font-weight="bold" fill="#111">S 2s</text>
<text transform="translate(341.2 270.4) scale(1.077 1)" font-size="13" font-weight="bold" fill="#111">S 2p<tspan font-size="9.3" dx="2.8" dy="2.5">1/2</tspan></text>
<text transform="translate(414.6 222.9) scale(1.077 1)" font-size="13" font-weight="bold" fill="#111">S 2p<tspan font-size="9.3" dx="2.8" dy="2.5">3/2</tspan></text>
<text transform="translate(79.6 458.9) scale(1.077 1)" font-size="13" font-weight="bold" fill="#111">Mo 3d<tspan font-size="9.3" dx="2.8" dy="2.5">3/2</tspan></text>
<text transform="translate(132.1 427.0) scale(1.077 1)" font-size="13" font-weight="bold" fill="#111">Mo 3d<tspan font-size="9.3" dx="2.8" dy="2.5">5/2</tspan></text>
<text transform="translate(206.6 518.8) scale(1.077 1)" font-size="13" font-weight="bold" fill="#111">S 2s</text>
<text transform="translate(340.2 475.0) scale(1.077 1)" font-size="13" font-weight="bold" fill="#111">S 2p<tspan font-size="9.3" dx="2.8" dy="2.5">1/2</tspan></text>
<text transform="translate(390.3 424.8) scale(1.077 1)" font-size="13" font-weight="bold" fill="#111">S 2p<tspan font-size="9.3" dx="2.8" dy="2.5">3/2</tspan></text>
<text x="1.0" y="21.0" style="font-family:'Liberation Serif', serif" font-size="27" font-weight="bold" fill="#000">(a)</text>
<text x="1.0" y="227.7" style="font-family:'Liberation Serif', serif" font-size="27" font-weight="bold" fill="#000">(b)</text>
<text x="1.0" y="429.5" style="font-family:'Liberation Serif', serif" font-size="27" font-weight="bold" fill="#000">(c)</text>
</svg>
</body></html>
